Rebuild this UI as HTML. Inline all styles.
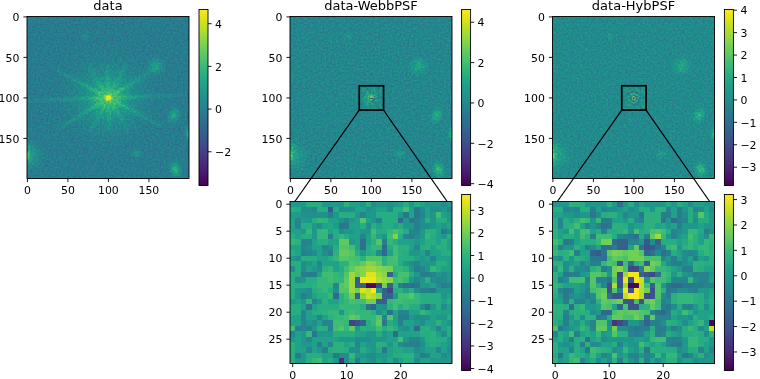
<!DOCTYPE html>
<html><head><meta charset="utf-8"><title>data / data-WebbPSF / data-HybPSF</title>
<style>html,body{margin:0;padding:0;background:#fff}body{width:760px;height:379px;overflow:hidden}svg{display:block}text{font-family:"DejaVu Sans", "Liberation Sans", sans-serif;fill:#000}.gr rect{width:1.03px;height:1.03px}</style></head><body>
<svg width="760" height="379" viewBox="0 0 760 379">
<defs>
<linearGradient id="vg" x1="0" y1="0" x2="0" y2="1"><stop offset="0.0000" stop-color="#fde725"/><stop offset="0.0417" stop-color="#e5e419"/><stop offset="0.0833" stop-color="#c8e020"/><stop offset="0.1250" stop-color="#addc30"/><stop offset="0.1667" stop-color="#90d743"/><stop offset="0.2083" stop-color="#75d054"/><stop offset="0.2500" stop-color="#5ec962"/><stop offset="0.2917" stop-color="#48c16e"/><stop offset="0.3333" stop-color="#35b779"/><stop offset="0.3750" stop-color="#28ae80"/><stop offset="0.4167" stop-color="#20a486"/><stop offset="0.4583" stop-color="#1f9a8a"/><stop offset="0.5000" stop-color="#21918c"/><stop offset="0.5417" stop-color="#24868e"/><stop offset="0.5833" stop-color="#287c8e"/><stop offset="0.6250" stop-color="#2c728e"/><stop offset="0.6667" stop-color="#31688e"/><stop offset="0.7083" stop-color="#365d8d"/><stop offset="0.7500" stop-color="#3b528b"/><stop offset="0.7917" stop-color="#404688"/><stop offset="0.8333" stop-color="#443983"/><stop offset="0.8750" stop-color="#472d7b"/><stop offset="0.9167" stop-color="#481f70"/><stop offset="0.9583" stop-color="#471063"/><stop offset="1.0000" stop-color="#440154"/></linearGradient>
<filter id="f1" x="0" y="0" width="200" height="200" filterUnits="userSpaceOnUse" color-interpolation-filters="sRGB"><feTurbulence type="fractalNoise" baseFrequency="0.42" numOctaves="2" seed="3" result="t"/><feColorMatrix in="t" type="matrix" values="1 0 0 0 0  1 0 0 0 0  1 0 0 0 0  0 0 0 0 1" result="n"/><feComposite in="SourceGraphic" in2="n" operator="arithmetic" k1="0" k2="1" k3="0.260" k4="-0.130" result="s"/><feComponentTransfer in="s"><feFuncR type="table" tableValues="0.267 0.273 0.277 0.280 0.282 0.283 0.283 0.281 0.279 0.275 0.271 0.265 0.259 0.252 0.245 0.237 0.230 0.222 0.214 0.207 0.199 0.192 0.186 0.179 0.173 0.167 0.161 0.155 0.149 0.143 0.138 0.132 0.128 0.123 0.121 0.119 0.121 0.125 0.132 0.143 0.158 0.176 0.197 0.220 0.246 0.274 0.304 0.336 0.369 0.404 0.440 0.478 0.516 0.555 0.596 0.637 0.678 0.720 0.762 0.804 0.846 0.886 0.926 0.965 0.993"/><feFuncG type="table" tableValues="0.005 0.026 0.050 0.073 0.095 0.116 0.136 0.156 0.175 0.195 0.214 0.233 0.252 0.270 0.288 0.305 0.322 0.339 0.356 0.372 0.388 0.403 0.419 0.434 0.449 0.464 0.479 0.493 0.508 0.523 0.537 0.552 0.567 0.582 0.596 0.611 0.626 0.640 0.655 0.669 0.684 0.698 0.712 0.726 0.739 0.752 0.765 0.777 0.789 0.800 0.811 0.821 0.831 0.840 0.849 0.857 0.864 0.870 0.876 0.882 0.887 0.892 0.897 0.902 0.906"/><feFuncB type="table" tableValues="0.329 0.353 0.376 0.397 0.417 0.436 0.453 0.469 0.483 0.496 0.507 0.517 0.525 0.532 0.537 0.542 0.546 0.549 0.551 0.553 0.555 0.556 0.557 0.557 0.558 0.558 0.558 0.558 0.557 0.556 0.555 0.553 0.551 0.547 0.544 0.539 0.533 0.527 0.520 0.511 0.502 0.491 0.479 0.466 0.452 0.437 0.420 0.402 0.383 0.363 0.341 0.318 0.294 0.269 0.243 0.217 0.190 0.163 0.137 0.115 0.100 0.095 0.104 0.124 0.144"/></feComponentTransfer></filter>
<filter id="f2" x="0" y="0" width="200" height="200" filterUnits="userSpaceOnUse" color-interpolation-filters="sRGB"><feTurbulence type="fractalNoise" baseFrequency="0.42" numOctaves="2" seed="11" result="t"/><feColorMatrix in="t" type="matrix" values="1 0 0 0 0  1 0 0 0 0  1 0 0 0 0  0 0 0 0 1" result="n"/><feComposite in="SourceGraphic" in2="n" operator="arithmetic" k1="0" k2="1" k3="0.280" k4="-0.140" result="s"/><feComponentTransfer in="s"><feFuncR type="table" tableValues="0.267 0.273 0.277 0.280 0.282 0.283 0.283 0.281 0.279 0.275 0.271 0.265 0.259 0.252 0.245 0.237 0.230 0.222 0.214 0.207 0.199 0.192 0.186 0.179 0.173 0.167 0.161 0.155 0.149 0.143 0.138 0.132 0.128 0.123 0.121 0.119 0.121 0.125 0.132 0.143 0.158 0.176 0.197 0.220 0.246 0.274 0.304 0.336 0.369 0.404 0.440 0.478 0.516 0.555 0.596 0.637 0.678 0.720 0.762 0.804 0.846 0.886 0.926 0.965 0.993"/><feFuncG type="table" tableValues="0.005 0.026 0.050 0.073 0.095 0.116 0.136 0.156 0.175 0.195 0.214 0.233 0.252 0.270 0.288 0.305 0.322 0.339 0.356 0.372 0.388 0.403 0.419 0.434 0.449 0.464 0.479 0.493 0.508 0.523 0.537 0.552 0.567 0.582 0.596 0.611 0.626 0.640 0.655 0.669 0.684 0.698 0.712 0.726 0.739 0.752 0.765 0.777 0.789 0.800 0.811 0.821 0.831 0.840 0.849 0.857 0.864 0.870 0.876 0.882 0.887 0.892 0.897 0.902 0.906"/><feFuncB type="table" tableValues="0.329 0.353 0.376 0.397 0.417 0.436 0.453 0.469 0.483 0.496 0.507 0.517 0.525 0.532 0.537 0.542 0.546 0.549 0.551 0.553 0.555 0.556 0.557 0.557 0.558 0.558 0.558 0.558 0.557 0.556 0.555 0.553 0.551 0.547 0.544 0.539 0.533 0.527 0.520 0.511 0.502 0.491 0.479 0.466 0.452 0.437 0.420 0.402 0.383 0.363 0.341 0.318 0.294 0.269 0.243 0.217 0.190 0.163 0.137 0.115 0.100 0.095 0.104 0.124 0.144"/></feComponentTransfer></filter>
<filter id="f3" x="0" y="0" width="200" height="200" filterUnits="userSpaceOnUse" color-interpolation-filters="sRGB"><feTurbulence type="fractalNoise" baseFrequency="0.42" numOctaves="2" seed="29" result="t"/><feColorMatrix in="t" type="matrix" values="1 0 0 0 0  1 0 0 0 0  1 0 0 0 0  0 0 0 0 1" result="n"/><feComposite in="SourceGraphic" in2="n" operator="arithmetic" k1="0" k2="1" k3="0.280" k4="-0.140" result="s"/><feComponentTransfer in="s"><feFuncR type="table" tableValues="0.267 0.273 0.277 0.280 0.282 0.283 0.283 0.281 0.279 0.275 0.271 0.265 0.259 0.252 0.245 0.237 0.230 0.222 0.214 0.207 0.199 0.192 0.186 0.179 0.173 0.167 0.161 0.155 0.149 0.143 0.138 0.132 0.128 0.123 0.121 0.119 0.121 0.125 0.132 0.143 0.158 0.176 0.197 0.220 0.246 0.274 0.304 0.336 0.369 0.404 0.440 0.478 0.516 0.555 0.596 0.637 0.678 0.720 0.762 0.804 0.846 0.886 0.926 0.965 0.993"/><feFuncG type="table" tableValues="0.005 0.026 0.050 0.073 0.095 0.116 0.136 0.156 0.175 0.195 0.214 0.233 0.252 0.270 0.288 0.305 0.322 0.339 0.356 0.372 0.388 0.403 0.419 0.434 0.449 0.464 0.479 0.493 0.508 0.523 0.537 0.552 0.567 0.582 0.596 0.611 0.626 0.640 0.655 0.669 0.684 0.698 0.712 0.726 0.739 0.752 0.765 0.777 0.789 0.800 0.811 0.821 0.831 0.840 0.849 0.857 0.864 0.870 0.876 0.882 0.887 0.892 0.897 0.902 0.906"/><feFuncB type="table" tableValues="0.329 0.353 0.376 0.397 0.417 0.436 0.453 0.469 0.483 0.496 0.507 0.517 0.525 0.532 0.537 0.542 0.546 0.549 0.551 0.553 0.555 0.556 0.557 0.557 0.558 0.558 0.558 0.558 0.557 0.556 0.555 0.553 0.551 0.547 0.544 0.539 0.533 0.527 0.520 0.511 0.502 0.491 0.479 0.466 0.452 0.437 0.420 0.402 0.383 0.363 0.341 0.318 0.294 0.269 0.243 0.217 0.190 0.163 0.137 0.115 0.100 0.095 0.104 0.124 0.144"/></feComponentTransfer></filter>
<radialGradient id="b1"><stop offset="0" stop-color="#fff" stop-opacity="0.85"/><stop offset="0.2" stop-color="#fff" stop-opacity="0.74"/><stop offset="0.4" stop-color="#fff" stop-opacity="0.5"/><stop offset="0.6" stop-color="#fff" stop-opacity="0.27"/><stop offset="0.8" stop-color="#fff" stop-opacity="0.09"/><stop offset="1" stop-color="#fff" stop-opacity="0"/></radialGradient>
<radialGradient id="halo"><stop offset="0" stop-color="#fff" stop-opacity="1"/><stop offset="0.026" stop-color="#fff" stop-opacity="1"/><stop offset="0.04" stop-color="#fff" stop-opacity="0.84"/><stop offset="0.055" stop-color="#fff" stop-opacity="0.66"/><stop offset="0.08" stop-color="#fff" stop-opacity="0.52"/><stop offset="0.1" stop-color="#fff" stop-opacity="0.43"/><stop offset="0.14" stop-color="#fff" stop-opacity="0.37"/><stop offset="0.2" stop-color="#fff" stop-opacity="0.3"/><stop offset="0.286" stop-color="#fff" stop-opacity="0.22"/><stop offset="0.429" stop-color="#fff" stop-opacity="0.12"/><stop offset="0.643" stop-color="#fff" stop-opacity="0.045"/><stop offset="0.857" stop-color="#fff" stop-opacity="0.01"/><stop offset="1" stop-color="#fff" stop-opacity="0"/></radialGradient>
<radialGradient id="sp" gradientUnits="userSpaceOnUse" cx="100.5" cy="100.5" r="100"><stop offset="0.05" stop-color="#fff" stop-opacity="0"/><stop offset="0.12" stop-color="#fff" stop-opacity="0.12"/><stop offset="0.2" stop-color="#fff" stop-opacity="0.10"/><stop offset="0.4" stop-color="#fff" stop-opacity="0.07"/><stop offset="0.7" stop-color="#fff" stop-opacity="0.04"/><stop offset="1" stop-color="#fff" stop-opacity="0.025"/></radialGradient>
</defs>
<svg x="27.00" y="16.50" width="162.00" height="162.00" viewBox="0 0 200 200" preserveAspectRatio="none" overflow="hidden">
<g filter="url(#f1)">
<rect x="-5" y="-5" width="210" height="210" fill="#6a6a6a"/>
<line x1="104.5" y1="100.4" x2="192.4" y2="97.3" stroke="url(#sp)" stroke-width="6.5" stroke-linecap="round"/>
<line x1="104.5" y1="100.4" x2="192.4" y2="97.3" stroke="url(#sp)" stroke-width="3.0" stroke-linecap="round"/>
<line x1="103.9" y1="98.4" x2="159.9" y2="63.4" stroke="url(#sp)" stroke-width="6.5" stroke-linecap="round"/>
<line x1="103.9" y1="98.4" x2="159.9" y2="63.4" stroke="url(#sp)" stroke-width="3.0" stroke-linecap="round"/>
<line x1="102.4" y1="97.0" x2="122.1" y2="59.9" stroke="url(#sp)" stroke-width="5.0" stroke-linecap="round"/>
<line x1="100.4" y1="96.5" x2="99.2" y2="62.5" stroke="url(#sp)" stroke-width="5.0" stroke-linecap="round"/>
<line x1="98.4" y1="97.1" x2="76.1" y2="61.5" stroke="url(#sp)" stroke-width="5.0" stroke-linecap="round"/>
<line x1="97.0" y1="98.6" x2="38.7" y2="67.6" stroke="url(#sp)" stroke-width="6.5" stroke-linecap="round"/>
<line x1="97.0" y1="98.6" x2="38.7" y2="67.6" stroke="url(#sp)" stroke-width="3.0" stroke-linecap="round"/>
<line x1="96.5" y1="100.6" x2="0.6" y2="104.0" stroke="url(#sp)" stroke-width="6.5" stroke-linecap="round"/>
<line x1="96.5" y1="100.6" x2="0.6" y2="104.0" stroke="url(#sp)" stroke-width="3.0" stroke-linecap="round"/>
<line x1="97.1" y1="102.6" x2="41.1" y2="137.6" stroke="url(#sp)" stroke-width="6.5" stroke-linecap="round"/>
<line x1="97.1" y1="102.6" x2="41.1" y2="137.6" stroke="url(#sp)" stroke-width="3.0" stroke-linecap="round"/>
<line x1="98.6" y1="104.0" x2="78.9" y2="141.1" stroke="url(#sp)" stroke-width="5.0" stroke-linecap="round"/>
<line x1="100.6" y1="104.5" x2="101.8" y2="138.5" stroke="url(#sp)" stroke-width="5.0" stroke-linecap="round"/>
<line x1="102.6" y1="103.9" x2="124.9" y2="139.5" stroke="url(#sp)" stroke-width="5.0" stroke-linecap="round"/>
<line x1="104.0" y1="102.4" x2="162.3" y2="133.4" stroke="url(#sp)" stroke-width="6.5" stroke-linecap="round"/>
<line x1="104.0" y1="102.4" x2="162.3" y2="133.4" stroke="url(#sp)" stroke-width="3.0" stroke-linecap="round"/>
<circle cx="100.5" cy="100.5" r="70" fill="url(#halo)"/>
<ellipse cx="159.3" cy="61.1" rx="15.2" ry="15.2" fill="url(#b1)" opacity="0.28" transform="rotate(0 159.3 61.1)"/><ellipse cx="71.6" cy="24.3" rx="6.5" ry="6.5" fill="url(#b1)" opacity="0.18" transform="rotate(0 71.6 24.3)"/><ellipse cx="-3.7" cy="171.6" rx="30.4" ry="23.9" fill="url(#b1)" opacity="0.36" transform="rotate(0 -3.7 171.6)"/><ellipse cx="0.6" cy="171.6" rx="5.4" ry="9.8" fill="url(#b1)" opacity="0.45" transform="rotate(0 0.6 171.6)"/><ellipse cx="3.7" cy="161.1" rx="6.5" ry="6.5" fill="url(#b1)" opacity="0.12" transform="rotate(0 3.7 161.1)"/><ellipse cx="181.2" cy="121.9" rx="9.8" ry="14.1" fill="url(#b1)" opacity="0.36" transform="rotate(25 181.2 121.9)"/><ellipse cx="199.8" cy="144.4" rx="6.5" ry="12.0" fill="url(#b1)" opacity="0.42" transform="rotate(0 199.8 144.4)"/><ellipse cx="135.1" cy="169.3" rx="10.9" ry="7.6" fill="url(#b1)" opacity="0.20" transform="rotate(0 135.1 169.3)"/><ellipse cx="183.3" cy="189.1" rx="9.8" ry="14.1" fill="url(#b1)" opacity="0.45" transform="rotate(-20 183.3 189.1)"/><ellipse cx="115.4" cy="53.6" rx="1.6" ry="1.6" fill="url(#b1)" opacity="0.45" transform="rotate(0 115.4 53.6)"/>
<circle cx="51.2" cy="11.0" r="0.87" fill="#fff" opacity="0.13"/>
<circle cx="24.8" cy="120.4" r="0.68" fill="#fff" opacity="0.27"/>
<circle cx="181.8" cy="84.1" r="0.73" fill="#fff" opacity="0.19"/>
<circle cx="38.5" cy="64.2" r="0.79" fill="#fff" opacity="0.14"/>
<circle cx="140.2" cy="63.7" r="0.90" fill="#fff" opacity="0.21"/>
<circle cx="121.2" cy="144.8" r="0.77" fill="#fff" opacity="0.21"/>
<circle cx="47.5" cy="88.6" r="0.75" fill="#fff" opacity="0.25"/>
<circle cx="21.6" cy="147.3" r="0.63" fill="#fff" opacity="0.15"/>
<circle cx="65.3" cy="128.0" r="1.00" fill="#fff" opacity="0.18"/>
<circle cx="116.1" cy="173.0" r="0.92" fill="#fff" opacity="0.17"/>
<circle cx="69.9" cy="143.4" r="0.74" fill="#fff" opacity="0.23"/>
<circle cx="49.9" cy="57.4" r="0.93" fill="#fff" opacity="0.32"/>
<circle cx="30.0" cy="56.9" r="0.81" fill="#fff" opacity="0.33"/>
<circle cx="120.1" cy="137.6" r="0.71" fill="#fff" opacity="0.18"/>
</g>
</svg>
<rect x="27.00" y="16.50" width="162.00" height="162.00" fill="none" stroke="#000" stroke-width="0.9"/>
<line x1="27.41" y1="178.50" x2="27.41" y2="182.10" stroke="#000" stroke-width="0.9"/><text x="27.41" y="194.10" font-size="10.9" text-anchor="middle">0</text><line x1="67.91" y1="178.50" x2="67.91" y2="182.10" stroke="#000" stroke-width="0.9"/><text x="67.91" y="194.10" font-size="10.9" text-anchor="middle">50</text><line x1="108.41" y1="178.50" x2="108.41" y2="182.10" stroke="#000" stroke-width="0.9"/><text x="108.41" y="194.10" font-size="10.9" text-anchor="middle">100</text><line x1="148.91" y1="178.50" x2="148.91" y2="182.10" stroke="#000" stroke-width="0.9"/><text x="148.91" y="194.10" font-size="10.9" text-anchor="middle">150</text><line x1="23.40" y1="16.91" x2="27.00" y2="16.91" stroke="#000" stroke-width="0.9"/><text x="19.40" y="21.11" font-size="10.9" text-anchor="end">0</text><line x1="23.40" y1="57.41" x2="27.00" y2="57.41" stroke="#000" stroke-width="0.9"/><text x="19.40" y="61.61" font-size="10.9" text-anchor="end">50</text><line x1="23.40" y1="97.91" x2="27.00" y2="97.91" stroke="#000" stroke-width="0.9"/><text x="19.40" y="102.11" font-size="10.9" text-anchor="end">100</text><line x1="23.40" y1="138.41" x2="27.00" y2="138.41" stroke="#000" stroke-width="0.9"/><text x="19.40" y="142.60" font-size="10.9" text-anchor="end">150</text>
<text x="108.00" y="9.70" font-size="13" text-anchor="middle">data</text>
<rect x="199.00" y="9.50" width="9" height="176.00" fill="url(#vg)"/><rect x="199.00" y="9.50" width="9.00" height="176.00" fill="none" stroke="#000" stroke-width="0.9"/><line x1="208.00" y1="23.70" x2="211.60" y2="23.70" stroke="#000" stroke-width="0.9"/><text x="215.00" y="27.90" font-size="10.9">4</text><line x1="208.00" y1="66.39" x2="211.60" y2="66.39" stroke="#000" stroke-width="0.9"/><text x="215.00" y="70.59" font-size="10.9">2</text><line x1="208.00" y1="109.08" x2="211.60" y2="109.08" stroke="#000" stroke-width="0.9"/><text x="215.00" y="113.28" font-size="10.9">0</text><line x1="208.00" y1="151.77" x2="211.60" y2="151.77" stroke="#000" stroke-width="0.9"/><text x="215.00" y="155.97" font-size="10.9">−2</text>
<svg x="290.00" y="16.50" width="162.00" height="162.00" viewBox="0 0 200 200" preserveAspectRatio="none" overflow="hidden">
<g filter="url(#f2)">
<rect x="-5" y="-5" width="210" height="210" fill="#757575"/>
<ellipse cx="159.3" cy="61.1" rx="15.2" ry="15.2" fill="url(#b1)" opacity="0.28" transform="rotate(0 159.3 61.1)"/><ellipse cx="71.6" cy="24.3" rx="6.5" ry="6.5" fill="url(#b1)" opacity="0.18" transform="rotate(0 71.6 24.3)"/><ellipse cx="-3.7" cy="171.6" rx="30.4" ry="23.9" fill="url(#b1)" opacity="0.36" transform="rotate(0 -3.7 171.6)"/><ellipse cx="0.6" cy="171.6" rx="5.4" ry="9.8" fill="url(#b1)" opacity="0.45" transform="rotate(0 0.6 171.6)"/><ellipse cx="3.7" cy="161.1" rx="6.5" ry="6.5" fill="url(#b1)" opacity="0.12" transform="rotate(0 3.7 161.1)"/><ellipse cx="181.2" cy="121.9" rx="9.8" ry="14.1" fill="url(#b1)" opacity="0.36" transform="rotate(25 181.2 121.9)"/><ellipse cx="199.8" cy="144.4" rx="6.5" ry="12.0" fill="url(#b1)" opacity="0.42" transform="rotate(0 199.8 144.4)"/><ellipse cx="135.1" cy="169.3" rx="10.9" ry="7.6" fill="url(#b1)" opacity="0.20" transform="rotate(0 135.1 169.3)"/><ellipse cx="183.3" cy="189.1" rx="9.8" ry="14.1" fill="url(#b1)" opacity="0.45" transform="rotate(-20 183.3 189.1)"/><ellipse cx="115.4" cy="53.6" rx="1.6" ry="1.6" fill="url(#b1)" opacity="0.45" transform="rotate(0 115.4 53.6)"/>
<circle cx="75.4" cy="188.3" r="0.89" fill="#fff" opacity="0.26"/>
<circle cx="32.6" cy="32.6" r="0.62" fill="#fff" opacity="0.32"/>
<circle cx="119.8" cy="140.8" r="0.61" fill="#fff" opacity="0.34"/>
<circle cx="165.2" cy="43.6" r="0.67" fill="#fff" opacity="0.16"/>
<circle cx="61.6" cy="104.9" r="0.77" fill="#fff" opacity="0.19"/>
<circle cx="121.9" cy="29.3" r="0.72" fill="#fff" opacity="0.20"/>
<circle cx="91.4" cy="155.9" r="0.68" fill="#fff" opacity="0.24"/>
<circle cx="118.1" cy="11.1" r="0.84" fill="#fff" opacity="0.16"/>
<circle cx="14.8" cy="188.0" r="0.99" fill="#fff" opacity="0.31"/>
<circle cx="61.7" cy="21.1" r="0.87" fill="#fff" opacity="0.22"/>
<circle cx="25.9" cy="99.1" r="0.61" fill="#fff" opacity="0.33"/>
<circle cx="52.7" cy="131.9" r="0.72" fill="#fff" opacity="0.24"/>
<circle cx="109.2" cy="38.2" r="0.99" fill="#fff" opacity="0.30"/>
<circle cx="186.1" cy="177.4" r="0.84" fill="#fff" opacity="0.33"/>
<circle cx="19.3" cy="40.4" r="0.62" fill="#fff" opacity="0.19"/>
<circle cx="78.2" cy="55.2" r="0.93" fill="#fff" opacity="0.20"/>
<circle cx="57.1" cy="108.4" r="0.66" fill="#fff" opacity="0.30"/>
<circle cx="16.6" cy="195.4" r="0.91" fill="#fff" opacity="0.17"/>
<circle cx="3.1" cy="161.8" r="0.88" fill="#fff" opacity="0.29"/>
<circle cx="153.2" cy="16.5" r="0.74" fill="#fff" opacity="0.15"/>
<circle cx="171.2" cy="124.2" r="0.73" fill="#fff" opacity="0.13"/>
<circle cx="63.0" cy="65.7" r="0.89" fill="#fff" opacity="0.27"/>
<circle cx="175.9" cy="94.6" r="0.65" fill="#fff" opacity="0.28"/>
<circle cx="151.1" cy="112.0" r="0.91" fill="#fff" opacity="0.23"/>
<circle cx="104.5" cy="85.8" r="0.61" fill="#fff" opacity="0.14"/>
<circle cx="8.2" cy="126.7" r="0.73" fill="#fff" opacity="0.24"/>
<circle cx="179.9" cy="50.9" r="0.76" fill="#fff" opacity="0.29"/>
<circle cx="46.8" cy="17.1" r="0.72" fill="#fff" opacity="0.16"/>
</g>
<g class="gr" transform="translate(85.50 85.50) scale(1.0000)"><g transform="translate(0 0)"><rect x="0" fill="#21918c" style="width:3.03px"/><rect x="3" fill="#1fa088" style="width:3.03px"/><rect x="6" fill="#21918c" style="width:4.03px"/><rect x="10" fill="#1fa088"/><rect x="11" fill="#21918c" style="width:3.03px"/><rect x="14" fill="#1fa088"/><rect x="15" fill="#26828e"/><rect x="16" fill="#21918c" style="width:2.03px"/><rect x="18" fill="#26828e"/><rect x="19" fill="#21918c" style="width:2.03px"/><rect x="21" fill="#1fa088"/><rect x="22" fill="#21918c"/><rect x="23" fill="#1fa088"/><rect x="24" fill="#21918c" style="width:4.03px"/><rect x="28" fill="#26828e"/><rect x="29" fill="#21918c"/></g>
<g transform="translate(0 1)"><rect x="0" fill="#1fa088" style="width:2.03px"/><rect x="2" fill="#26828e" style="width:2.03px"/><rect x="4" fill="#2c728e"/><rect x="5" fill="#1fa088" style="width:2.03px"/><rect x="7" fill="#3b528b"/><rect x="8" fill="#1fa088"/><rect x="9" fill="#26828e" style="width:3.03px"/><rect x="12" fill="#21918c" style="width:2.03px"/><rect x="14" fill="#26828e"/><rect x="15" fill="#21918c" style="width:3.03px"/><rect x="18" fill="#26828e"/><rect x="19" fill="#1fa088" style="width:2.03px"/><rect x="21" fill="#28ae80"/><rect x="22" fill="#21918c"/><rect x="23" fill="#2c728e"/><rect x="24" fill="#26828e"/><rect x="25" fill="#21918c"/><rect x="26" fill="#26828e" style="width:2.03px"/><rect x="28" fill="#21918c"/><rect x="29" fill="#2c728e"/></g>
<g transform="translate(0 2)"><rect x="0" fill="#21918c" style="width:2.03px"/><rect x="2" fill="#26828e" style="width:5.03px"/><rect x="7" fill="#2c728e"/><rect x="8" fill="#21918c"/><rect x="9" fill="#1fa088" style="width:3.03px"/><rect x="12" fill="#21918c"/><rect x="13" fill="#2c728e"/><rect x="14" fill="#21918c" style="width:2.03px"/><rect x="16" fill="#1fa088" style="width:4.03px"/><rect x="20" fill="#21918c"/><rect x="21" fill="#2c728e"/><rect x="22" fill="#21918c"/><rect x="23" fill="#2c728e" style="width:2.03px"/><rect x="25" fill="#21918c" style="width:2.03px"/><rect x="27" fill="#28ae80"/><rect x="28" fill="#21918c" style="width:2.03px"/></g>
<g transform="translate(0 3)"><rect x="0" fill="#21918c"/><rect x="1" fill="#2c728e"/><rect x="2" fill="#21918c" style="width:2.03px"/><rect x="4" fill="#1fa088"/><rect x="5" fill="#28ae80"/><rect x="6" fill="#1fa088"/><rect x="7" fill="#21918c" style="width:2.03px"/><rect x="9" fill="#26828e"/><rect x="10" fill="#2c728e"/><rect x="11" fill="#21918c" style="width:2.03px"/><rect x="13" fill="#28ae80"/><rect x="14" fill="#21918c" style="width:2.03px"/><rect x="16" fill="#2c728e"/><rect x="17" fill="#1fa088" style="width:3.03px"/><rect x="20" fill="#33638d"/><rect x="21" fill="#21918c"/><rect x="22" fill="#2c728e" style="width:2.03px"/><rect x="24" fill="#26828e"/><rect x="25" fill="#1fa088"/><rect x="26" fill="#21918c"/><rect x="27" fill="#1fa088" style="width:2.03px"/><rect x="29" fill="#21918c"/></g>
<g transform="translate(0 4)"><rect x="0" fill="#21918c"/><rect x="1" fill="#2c728e"/><rect x="2" fill="#1fa088" style="width:2.03px"/><rect x="4" fill="#21918c"/><rect x="5" fill="#26828e"/><rect x="6" fill="#21918c"/><rect x="7" fill="#1fa088"/><rect x="8" fill="#21918c"/><rect x="9" fill="#2c728e" style="width:2.03px"/><rect x="11" fill="#21918c" style="width:2.03px"/><rect x="13" fill="#1fa088"/><rect x="14" fill="#26828e"/><rect x="15" fill="#1fa088"/><rect x="16" fill="#21918c"/><rect x="17" fill="#1fa088" style="width:2.03px"/><rect x="19" fill="#21918c"/><rect x="20" fill="#1fa088"/><rect x="21" fill="#21918c" style="width:2.03px"/><rect x="23" fill="#2c728e"/><rect x="24" fill="#26828e" style="width:2.03px"/><rect x="26" fill="#21918c" style="width:4.03px"/></g>
<g transform="translate(0 5)"><rect x="0" fill="#21918c" style="width:3.03px"/><rect x="3" fill="#28ae80"/><rect x="4" fill="#21918c"/><rect x="5" fill="#28ae80" style="width:2.03px"/><rect x="7" fill="#21918c"/><rect x="8" fill="#1fa088"/><rect x="9" fill="#26828e"/><rect x="10" fill="#21918c" style="width:5.03px"/><rect x="15" fill="#28ae80"/><rect x="16" fill="#1fa088" style="width:2.03px"/><rect x="18" fill="#28ae80" style="width:3.03px"/><rect x="21" fill="#1fa088"/><rect x="22" fill="#2c728e" style="width:2.03px"/><rect x="24" fill="#21918c"/><rect x="25" fill="#1fa088" style="width:2.03px"/><rect x="27" fill="#21918c"/><rect x="28" fill="#2c728e"/><rect x="29" fill="#26828e"/></g>
<g transform="translate(0 6)"><rect x="0" fill="#1fa088"/><rect x="1" fill="#21918c"/><rect x="2" fill="#1fa088" style="width:2.03px"/><rect x="4" fill="#21918c"/><rect x="5" fill="#28ae80" style="width:2.03px"/><rect x="7" fill="#2c728e"/><rect x="8" fill="#1fa088"/><rect x="9" fill="#28ae80"/><rect x="10" fill="#1fa088"/><rect x="11" fill="#21918c" style="width:2.03px"/><rect x="13" fill="#2c728e"/><rect x="14" fill="#21918c"/><rect x="15" fill="#28ae80"/><rect x="16" fill="#21918c" style="width:2.03px"/><rect x="18" fill="#28ae80"/><rect x="19" fill="#3fbc73"/><rect x="20" fill="#1fa088"/><rect x="21" fill="#2c728e" style="width:2.03px"/><rect x="23" fill="#26828e"/><rect x="24" fill="#21918c"/><rect x="25" fill="#28ae80"/><rect x="26" fill="#1fa088"/><rect x="27" fill="#21918c" style="width:2.03px"/><rect x="29" fill="#1fa088"/></g>
<g transform="translate(0 7)"><rect x="0" fill="#28ae80"/><rect x="1" fill="#1fa088"/><rect x="2" fill="#2c728e" style="width:2.03px"/><rect x="4" fill="#21918c"/><rect x="5" fill="#1fa088" style="width:2.03px"/><rect x="7" fill="#21918c" style="width:2.03px"/><rect x="9" fill="#3fbc73" style="width:2.03px"/><rect x="11" fill="#21918c" style="width:2.03px"/><rect x="13" fill="#33638d"/><rect x="14" fill="#21918c"/><rect x="15" fill="#1fa088"/><rect x="16" fill="#28ae80"/><rect x="17" fill="#2c728e"/><rect x="18" fill="#28ae80"/><rect x="19" fill="#1fa088"/><rect x="20" fill="#21918c" style="width:5.03px"/><rect x="25" fill="#1fa088" style="width:2.03px"/><rect x="27" fill="#21918c"/><rect x="28" fill="#1fa088"/><rect x="29" fill="#21918c"/></g>
<g transform="translate(0 8)"><rect x="0" fill="#21918c" style="width:2.03px"/><rect x="2" fill="#2c728e"/><rect x="3" fill="#26828e"/><rect x="4" fill="#21918c" style="width:2.03px"/><rect x="6" fill="#2c728e"/><rect x="7" fill="#26828e"/><rect x="8" fill="#1fa088"/><rect x="9" fill="#28ae80" style="width:3.03px"/><rect x="12" fill="#21918c"/><rect x="13" fill="#33638d"/><rect x="14" fill="#1fa088"/><rect x="15" fill="#28ae80" style="width:2.03px"/><rect x="17" fill="#33638d"/><rect x="18" fill="#1fa088"/><rect x="19" fill="#28ae80"/><rect x="20" fill="#1fa088" style="width:2.03px"/><rect x="22" fill="#21918c"/><rect x="23" fill="#2c728e"/><rect x="24" fill="#1fa088" style="width:2.03px"/><rect x="26" fill="#21918c"/><rect x="27" fill="#1fa088" style="width:2.03px"/><rect x="29" fill="#21918c"/></g>
<g transform="translate(0 9)"><rect x="0" fill="#1fa088"/><rect x="1" fill="#21918c"/><rect x="2" fill="#2c728e" style="width:2.03px"/><rect x="4" fill="#26828e"/><rect x="5" fill="#21918c"/><rect x="6" fill="#26828e"/><rect x="7" fill="#2c728e"/><rect x="8" fill="#1fa088"/><rect x="9" fill="#3fbc73" style="width:2.03px"/><rect x="11" fill="#28ae80"/><rect x="12" fill="#1fa088"/><rect x="13" fill="#21918c"/><rect x="14" fill="#1fa088" style="width:2.03px"/><rect x="16" fill="#26828e"/><rect x="17" fill="#33638d"/><rect x="18" fill="#21918c"/><rect x="19" fill="#28ae80"/><rect x="20" fill="#1fa088" style="width:2.03px"/><rect x="22" fill="#21918c" style="width:3.03px"/><rect x="25" fill="#2c728e"/><rect x="26" fill="#21918c" style="width:2.03px"/><rect x="28" fill="#1fa088" style="width:2.03px"/></g>
<g transform="translate(0 10)"><rect x="0" fill="#21918c"/><rect x="1" fill="#26828e"/><rect x="2" fill="#1fa088" style="width:3.03px"/><rect x="5" fill="#21918c" style="width:2.03px"/><rect x="7" fill="#1fa088"/><rect x="8" fill="#28ae80" style="width:5.03px"/><rect x="13" fill="#1fa088"/><rect x="14" fill="#28ae80" style="width:3.03px"/><rect x="17" fill="#1fa088"/><rect x="18" fill="#28ae80" style="width:2.03px"/><rect x="20" fill="#1fa088" style="width:3.03px"/><rect x="23" fill="#21918c" style="width:3.03px"/><rect x="26" fill="#2c728e"/><rect x="27" fill="#21918c" style="width:3.03px"/></g>
<g transform="translate(0 11)"><rect x="0" fill="#1fa088" style="width:2.03px"/><rect x="2" fill="#26828e"/><rect x="3" fill="#21918c" style="width:2.03px"/><rect x="5" fill="#2c728e"/><rect x="6" fill="#21918c" style="width:3.03px"/><rect x="9" fill="#1fa088" style="width:2.03px"/><rect x="11" fill="#28ae80" style="width:2.03px"/><rect x="13" fill="#3fbc73"/><rect x="14" fill="#5ec962"/><rect x="15" fill="#3fbc73" style="width:2.03px"/><rect x="17" fill="#1fa088"/><rect x="18" fill="#28ae80" style="width:2.03px"/><rect x="20" fill="#1fa088"/><rect x="21" fill="#21918c"/><rect x="22" fill="#26828e"/><rect x="23" fill="#2c728e"/><rect x="24" fill="#21918c" style="width:3.03px"/><rect x="27" fill="#1fa088" style="width:2.03px"/><rect x="29" fill="#21918c"/></g>
<g transform="translate(0 12)"><rect x="0" fill="#26828e"/><rect x="1" fill="#1fa088"/><rect x="2" fill="#26828e"/><rect x="3" fill="#21918c" style="width:2.03px"/><rect x="5" fill="#26828e"/><rect x="6" fill="#1fa088"/><rect x="7" fill="#28ae80"/><rect x="8" fill="#21918c"/><rect x="9" fill="#1fa088"/><rect x="10" fill="#28ae80"/><rect x="11" fill="#3fbc73" style="width:2.03px"/><rect x="13" fill="#5ec962" style="width:4.03px"/><rect x="17" fill="#3fbc73" style="width:2.03px"/><rect x="19" fill="#28ae80" style="width:2.03px"/><rect x="21" fill="#1fa088"/><rect x="22" fill="#21918c"/><rect x="23" fill="#2c728e" style="width:2.03px"/><rect x="25" fill="#21918c"/><rect x="26" fill="#28ae80"/><rect x="27" fill="#1fa088"/><rect x="28" fill="#21918c" style="width:2.03px"/></g>
<g transform="translate(0 13)"><rect x="0" fill="#1fa088" style="width:2.03px"/><rect x="2" fill="#2c728e" style="width:3.03px"/><rect x="5" fill="#21918c"/><rect x="6" fill="#28ae80" style="width:3.03px"/><rect x="9" fill="#1fa088"/><rect x="10" fill="#28ae80"/><rect x="11" fill="#5ec962"/><rect x="12" fill="#3fbc73"/><rect x="13" fill="#5ec962"/><rect x="14" fill="#addc30" style="width:2.03px"/><rect x="16" fill="#5ec962" style="width:2.03px"/><rect x="18" fill="#3b528b"/><rect x="19" fill="#1fa088"/><rect x="20" fill="#28ae80" style="width:2.03px"/><rect x="22" fill="#1fa088"/><rect x="23" fill="#21918c"/><rect x="24" fill="#2c728e" style="width:3.03px"/><rect x="27" fill="#21918c"/><rect x="28" fill="#26828e"/><rect x="29" fill="#21918c"/></g>
<g transform="translate(0 14)"><rect x="0" fill="#1fa088"/><rect x="1" fill="#26828e"/><rect x="2" fill="#21918c"/><rect x="3" fill="#1fa088" style="width:2.03px"/><rect x="5" fill="#28ae80" style="width:5.03px"/><rect x="10" fill="#3fbc73"/><rect x="11" fill="#5ec962"/><rect x="12" fill="#3b528b"/><rect x="13" fill="#addc30" style="width:3.03px"/><rect x="16" fill="#84d44b"/><rect x="17" fill="#5ec962" style="width:2.03px"/><rect x="19" fill="#28ae80" style="width:3.03px"/><rect x="22" fill="#21918c"/><rect x="23" fill="#2c728e"/><rect x="24" fill="#21918c"/><rect x="25" fill="#1fa088"/><rect x="26" fill="#26828e"/><rect x="27" fill="#2c728e"/><rect x="28" fill="#26828e"/><rect x="29" fill="#21918c"/></g>
<g transform="translate(0 15)"><rect x="0" fill="#1fa088" style="width:5.03px"/><rect x="5" fill="#28ae80" style="width:3.03px"/><rect x="8" fill="#2c728e"/><rect x="9" fill="#28ae80"/><rect x="10" fill="#3fbc73"/><rect x="11" fill="#5ec962"/><rect x="12" fill="#3b528b" style="width:2.03px"/><rect x="14" fill="#440154" style="width:2.03px"/><rect x="16" fill="#424086"/><rect x="17" fill="#3fbc73"/><rect x="18" fill="#3b528b"/><rect x="19" fill="#28ae80"/><rect x="20" fill="#2c728e"/><rect x="21" fill="#33638d" style="width:2.03px"/><rect x="23" fill="#2c728e"/><rect x="24" fill="#21918c" style="width:3.03px"/><rect x="27" fill="#26828e"/><rect x="28" fill="#2c728e" style="width:2.03px"/></g>
<g transform="translate(0 16)"><rect x="0" fill="#1fa088"/><rect x="1" fill="#21918c" style="width:2.03px"/><rect x="3" fill="#26828e"/><rect x="4" fill="#1fa088" style="width:2.03px"/><rect x="6" fill="#28ae80"/><rect x="7" fill="#1fa088"/><rect x="8" fill="#26828e"/><rect x="9" fill="#28ae80" style="width:2.03px"/><rect x="11" fill="#5ec962"/><rect x="12" fill="#3fbc73"/><rect x="13" fill="#addc30"/><rect x="14" fill="#84d44b"/><rect x="15" fill="#addc30"/><rect x="16" fill="#21918c"/><rect x="17" fill="#3b528b"/><rect x="18" fill="#424086"/><rect x="19" fill="#1fa088" style="width:2.03px"/><rect x="21" fill="#21918c"/><rect x="22" fill="#1fa088"/><rect x="23" fill="#26828e"/><rect x="24" fill="#2c728e" style="width:3.03px"/><rect x="27" fill="#21918c" style="width:3.03px"/></g>
<g transform="translate(0 17)"><rect x="0" fill="#1fa088"/><rect x="1" fill="#21918c"/><rect x="2" fill="#2c728e"/><rect x="3" fill="#26828e"/><rect x="4" fill="#21918c"/><rect x="5" fill="#1fa088" style="width:2.03px"/><rect x="7" fill="#28ae80"/><rect x="8" fill="#33638d"/><rect x="9" fill="#1fa088"/><rect x="10" fill="#28ae80"/><rect x="11" fill="#3fbc73"/><rect x="12" fill="#3b528b"/><rect x="13" fill="#5ec962"/><rect x="14" fill="#84d44b" style="width:2.03px"/><rect x="16" fill="#5ec962"/><rect x="17" fill="#3b528b" style="width:2.03px"/><rect x="19" fill="#21918c"/><rect x="20" fill="#28ae80" style="width:4.03px"/><rect x="24" fill="#1fa088" style="width:4.03px"/><rect x="28" fill="#21918c" style="width:2.03px"/></g>
<g transform="translate(0 18)"><rect x="0" fill="#21918c" style="width:3.03px"/><rect x="3" fill="#28ae80"/><rect x="4" fill="#2c728e"/><rect x="5" fill="#21918c"/><rect x="6" fill="#1fa088"/><rect x="7" fill="#21918c" style="width:2.03px"/><rect x="9" fill="#1fa088"/><rect x="10" fill="#28ae80" style="width:4.03px"/><rect x="14" fill="#3fbc73" style="width:2.03px"/><rect x="16" fill="#3b528b" style="width:2.03px"/><rect x="18" fill="#28ae80" style="width:6.03px"/><rect x="24" fill="#1fa088" style="width:4.03px"/><rect x="28" fill="#21918c"/><rect x="29" fill="#1fa088"/></g>
<g transform="translate(0 19)"><rect x="0" fill="#1fa088" style="width:2.03px"/><rect x="2" fill="#21918c"/><rect x="3" fill="#33638d"/><rect x="4" fill="#21918c"/><rect x="5" fill="#1fa088" style="width:4.03px"/><rect x="9" fill="#28ae80" style="width:4.03px"/><rect x="13" fill="#1fa088"/><rect x="14" fill="#33638d"/><rect x="15" fill="#3b528b"/><rect x="16" fill="#21918c"/><rect x="17" fill="#26828e"/><rect x="18" fill="#1fa088"/><rect x="19" fill="#28ae80"/><rect x="20" fill="#1fa088"/><rect x="21" fill="#28ae80"/><rect x="22" fill="#1fa088" style="width:2.03px"/><rect x="24" fill="#26828e"/><rect x="25" fill="#33638d"/><rect x="26" fill="#21918c"/><rect x="27" fill="#1fa088"/><rect x="28" fill="#26828e"/><rect x="29" fill="#21918c"/></g>
<g transform="translate(0 20)"><rect x="0" fill="#1fa088" style="width:2.03px"/><rect x="2" fill="#2c728e"/><rect x="3" fill="#21918c"/><rect x="4" fill="#1fa088" style="width:3.03px"/><rect x="7" fill="#28ae80" style="width:2.03px"/><rect x="9" fill="#21918c"/><rect x="10" fill="#28ae80" style="width:5.03px"/><rect x="15" fill="#1fa088"/><rect x="16" fill="#26828e"/><rect x="17" fill="#21918c"/><rect x="18" fill="#33638d"/><rect x="19" fill="#21918c"/><rect x="20" fill="#2c728e" style="width:2.03px"/><rect x="22" fill="#21918c" style="width:2.03px"/><rect x="24" fill="#28ae80"/><rect x="25" fill="#1fa088"/><rect x="26" fill="#21918c" style="width:4.03px"/></g>
<g transform="translate(0 21)"><rect x="0" fill="#21918c" style="width:2.03px"/><rect x="2" fill="#2c728e"/><rect x="3" fill="#21918c" style="width:2.03px"/><rect x="5" fill="#2c728e"/><rect x="6" fill="#21918c"/><rect x="7" fill="#1fa088"/><rect x="8" fill="#28ae80" style="width:3.03px"/><rect x="11" fill="#3fbc73"/><rect x="12" fill="#28ae80" style="width:5.03px"/><rect x="17" fill="#2c728e"/><rect x="18" fill="#28ae80"/><rect x="19" fill="#21918c"/><rect x="20" fill="#2c728e" style="width:2.03px"/><rect x="22" fill="#21918c"/><rect x="23" fill="#26828e" style="width:3.03px"/><rect x="26" fill="#21918c" style="width:3.03px"/><rect x="29" fill="#1fa088"/></g>
<g transform="translate(0 22)"><rect x="0" fill="#21918c" style="width:2.03px"/><rect x="2" fill="#2c728e"/><rect x="3" fill="#21918c"/><rect x="4" fill="#26828e"/><rect x="5" fill="#21918c"/><rect x="6" fill="#2c728e" style="width:2.03px"/><rect x="8" fill="#28ae80" style="width:3.03px"/><rect x="11" fill="#424086"/><rect x="12" fill="#3b528b" style="width:2.03px"/><rect x="14" fill="#1fa088"/><rect x="15" fill="#28ae80"/><rect x="16" fill="#3fbc73"/><rect x="17" fill="#2c728e"/><rect x="18" fill="#1fa088"/><rect x="19" fill="#21918c"/><rect x="20" fill="#2c728e"/><rect x="21" fill="#21918c" style="width:3.03px"/><rect x="24" fill="#26828e"/><rect x="25" fill="#21918c" style="width:2.03px"/><rect x="27" fill="#1fa088"/><rect x="28" fill="#21918c" style="width:2.03px"/></g>
<g transform="translate(0 23)"><rect x="0" fill="#28ae80"/><rect x="1" fill="#2c728e" style="width:3.03px"/><rect x="4" fill="#21918c"/><rect x="5" fill="#1fa088" style="width:2.03px"/><rect x="7" fill="#2c728e"/><rect x="8" fill="#28ae80" style="width:3.03px"/><rect x="11" fill="#3fbc73"/><rect x="12" fill="#21918c"/><rect x="13" fill="#1fa088" style="width:3.03px"/><rect x="16" fill="#28ae80"/><rect x="17" fill="#1fa088"/><rect x="18" fill="#28ae80"/><rect x="19" fill="#1fa088"/><rect x="20" fill="#21918c"/><rect x="21" fill="#26828e"/><rect x="22" fill="#21918c"/><rect x="23" fill="#33638d"/><rect x="24" fill="#1fa088" style="width:2.03px"/><rect x="26" fill="#21918c"/><rect x="27" fill="#2c728e"/><rect x="28" fill="#21918c"/><rect x="29" fill="#1fa088"/></g>
<g transform="translate(0 24)"><rect x="0" fill="#2c728e"/><rect x="1" fill="#21918c" style="width:2.03px"/><rect x="3" fill="#28ae80"/><rect x="4" fill="#2c728e"/><rect x="5" fill="#21918c" style="width:3.03px"/><rect x="8" fill="#1fa088" style="width:4.03px"/><rect x="12" fill="#21918c" style="width:4.03px"/><rect x="16" fill="#1fa088"/><rect x="17" fill="#21918c" style="width:2.03px"/><rect x="19" fill="#33638d"/><rect x="20" fill="#21918c" style="width:4.03px"/><rect x="24" fill="#1fa088" style="width:3.03px"/><rect x="27" fill="#21918c"/><rect x="28" fill="#26828e"/><rect x="29" fill="#1fa088"/></g>
<g transform="translate(0 25)"><rect x="0" fill="#21918c" style="width:3.03px"/><rect x="3" fill="#2c728e"/><rect x="4" fill="#21918c" style="width:8.03px"/><rect x="12" fill="#26828e" style="width:3.03px"/><rect x="15" fill="#21918c" style="width:5.03px"/><rect x="20" fill="#28ae80"/><rect x="21" fill="#21918c"/><rect x="22" fill="#2c728e" style="width:2.03px"/><rect x="24" fill="#21918c"/><rect x="25" fill="#1fa088" style="width:4.03px"/><rect x="29" fill="#21918c"/></g>
<g transform="translate(0 26)"><rect x="0" fill="#1fa088"/><rect x="1" fill="#21918c" style="width:4.03px"/><rect x="5" fill="#2c728e"/><rect x="6" fill="#21918c"/><rect x="7" fill="#2c728e"/><rect x="8" fill="#1fa088" style="width:2.03px"/><rect x="10" fill="#21918c"/><rect x="11" fill="#1fa088"/><rect x="12" fill="#2c728e"/><rect x="13" fill="#21918c" style="width:3.03px"/><rect x="16" fill="#1fa088" style="width:2.03px"/><rect x="18" fill="#21918c"/><rect x="19" fill="#1fa088"/><rect x="20" fill="#26828e"/><rect x="21" fill="#2c728e" style="width:3.03px"/><rect x="24" fill="#26828e"/><rect x="25" fill="#1fa088" style="width:3.03px"/><rect x="28" fill="#21918c" style="width:2.03px"/></g>
<g transform="translate(0 27)"><rect x="0" fill="#1fa088"/><rect x="1" fill="#21918c" style="width:2.03px"/><rect x="3" fill="#2c728e"/><rect x="4" fill="#21918c" style="width:2.03px"/><rect x="6" fill="#2c728e"/><rect x="7" fill="#1fa088" style="width:4.03px"/><rect x="11" fill="#26828e" style="width:2.03px"/><rect x="13" fill="#1fa088"/><rect x="14" fill="#21918c" style="width:2.03px"/><rect x="16" fill="#1fa088"/><rect x="17" fill="#2c728e"/><rect x="18" fill="#21918c"/><rect x="19" fill="#1fa088" style="width:2.03px"/><rect x="21" fill="#21918c" style="width:2.03px"/><rect x="23" fill="#26828e"/><rect x="24" fill="#21918c" style="width:3.03px"/><rect x="27" fill="#2c728e"/><rect x="28" fill="#21918c"/><rect x="29" fill="#26828e"/></g>
<g transform="translate(0 28)"><rect x="0" fill="#1fa088"/><rect x="1" fill="#2c728e"/><rect x="2" fill="#21918c"/><rect x="3" fill="#1fa088" style="width:3.03px"/><rect x="6" fill="#21918c" style="width:2.03px"/><rect x="8" fill="#2c728e"/><rect x="9" fill="#26828e" style="width:2.03px"/><rect x="11" fill="#28ae80"/><rect x="12" fill="#21918c" style="width:2.03px"/><rect x="14" fill="#26828e" style="width:2.03px"/><rect x="16" fill="#21918c" style="width:3.03px"/><rect x="19" fill="#1fa088" style="width:4.03px"/><rect x="23" fill="#21918c"/><rect x="24" fill="#2c728e" style="width:2.03px"/><rect x="26" fill="#21918c" style="width:2.03px"/><rect x="28" fill="#26828e"/><rect x="29" fill="#21918c"/></g>
<g transform="translate(0 29)"><rect x="0" fill="#1fa088"/><rect x="1" fill="#21918c" style="width:2.03px"/><rect x="3" fill="#1fa088"/><rect x="4" fill="#28ae80" style="width:2.03px"/><rect x="6" fill="#21918c"/><rect x="7" fill="#1fa088"/><rect x="8" fill="#21918c"/><rect x="9" fill="#472d7b"/><rect x="10" fill="#26828e"/><rect x="11" fill="#1fa088"/><rect x="12" fill="#2c728e"/><rect x="13" fill="#21918c" style="width:2.03px"/><rect x="15" fill="#26828e"/><rect x="16" fill="#21918c" style="width:2.03px"/><rect x="18" fill="#1fa088"/><rect x="19" fill="#26828e"/><rect x="20" fill="#21918c"/><rect x="21" fill="#1fa088" style="width:2.03px"/><rect x="23" fill="#26828e"/><rect x="24" fill="#21918c" style="width:6.03px"/></g>
</g>
</svg>
<rect x="290.00" y="16.50" width="162.00" height="162.00" fill="none" stroke="#000" stroke-width="0.9"/>
<line x1="290.40" y1="178.50" x2="290.40" y2="182.10" stroke="#000" stroke-width="0.9"/><text x="290.40" y="194.10" font-size="10.9" text-anchor="middle">0</text><line x1="330.90" y1="178.50" x2="330.90" y2="182.10" stroke="#000" stroke-width="0.9"/><text x="330.90" y="194.10" font-size="10.9" text-anchor="middle">50</text><line x1="371.40" y1="178.50" x2="371.40" y2="182.10" stroke="#000" stroke-width="0.9"/><text x="371.40" y="194.10" font-size="10.9" text-anchor="middle">100</text><line x1="411.90" y1="178.50" x2="411.90" y2="182.10" stroke="#000" stroke-width="0.9"/><text x="411.90" y="194.10" font-size="10.9" text-anchor="middle">150</text><line x1="286.40" y1="16.91" x2="290.00" y2="16.91" stroke="#000" stroke-width="0.9"/><text x="282.40" y="21.11" font-size="10.9" text-anchor="end">0</text><line x1="286.40" y1="57.41" x2="290.00" y2="57.41" stroke="#000" stroke-width="0.9"/><text x="282.40" y="61.61" font-size="10.9" text-anchor="end">50</text><line x1="286.40" y1="97.91" x2="290.00" y2="97.91" stroke="#000" stroke-width="0.9"/><text x="282.40" y="102.11" font-size="10.9" text-anchor="end">100</text><line x1="286.40" y1="138.41" x2="290.00" y2="138.41" stroke="#000" stroke-width="0.9"/><text x="282.40" y="142.60" font-size="10.9" text-anchor="end">150</text>
<text x="371.00" y="9.70" font-size="13" text-anchor="middle">data-WebbPSF</text>
<rect x="461.60" y="9.50" width="9" height="176.00" fill="url(#vg)"/><rect x="461.60" y="9.50" width="9.00" height="176.00" fill="none" stroke="#000" stroke-width="0.9"/><line x1="470.60" y1="22.22" x2="474.20" y2="22.22" stroke="#000" stroke-width="0.9"/><text x="477.60" y="26.42" font-size="10.9">4</text><line x1="470.60" y1="62.58" x2="474.20" y2="62.58" stroke="#000" stroke-width="0.9"/><text x="477.60" y="66.78" font-size="10.9">2</text><line x1="470.60" y1="102.95" x2="474.20" y2="102.95" stroke="#000" stroke-width="0.9"/><text x="477.60" y="107.15" font-size="10.9">0</text><line x1="470.60" y1="143.32" x2="474.20" y2="143.32" stroke="#000" stroke-width="0.9"/><text x="477.60" y="147.52" font-size="10.9">−2</text><line x1="470.60" y1="183.68" x2="474.20" y2="183.68" stroke="#000" stroke-width="0.9"/><text x="477.60" y="187.88" font-size="10.9">−4</text>
<svg x="552.50" y="16.50" width="162.00" height="162.00" viewBox="0 0 200 200" preserveAspectRatio="none" overflow="hidden">
<g filter="url(#f3)">
<rect x="-5" y="-5" width="210" height="210" fill="#797979"/>
<ellipse cx="159.3" cy="61.1" rx="15.2" ry="15.2" fill="url(#b1)" opacity="0.28" transform="rotate(0 159.3 61.1)"/><ellipse cx="71.6" cy="24.3" rx="6.5" ry="6.5" fill="url(#b1)" opacity="0.18" transform="rotate(0 71.6 24.3)"/><ellipse cx="-3.7" cy="171.6" rx="30.4" ry="23.9" fill="url(#b1)" opacity="0.36" transform="rotate(0 -3.7 171.6)"/><ellipse cx="0.6" cy="171.6" rx="5.4" ry="9.8" fill="url(#b1)" opacity="0.45" transform="rotate(0 0.6 171.6)"/><ellipse cx="3.7" cy="161.1" rx="6.5" ry="6.5" fill="url(#b1)" opacity="0.12" transform="rotate(0 3.7 161.1)"/><ellipse cx="181.2" cy="121.9" rx="9.8" ry="14.1" fill="url(#b1)" opacity="0.36" transform="rotate(25 181.2 121.9)"/><ellipse cx="199.8" cy="144.4" rx="6.5" ry="12.0" fill="url(#b1)" opacity="0.42" transform="rotate(0 199.8 144.4)"/><ellipse cx="135.1" cy="169.3" rx="10.9" ry="7.6" fill="url(#b1)" opacity="0.20" transform="rotate(0 135.1 169.3)"/><ellipse cx="183.3" cy="189.1" rx="9.8" ry="14.1" fill="url(#b1)" opacity="0.45" transform="rotate(-20 183.3 189.1)"/><ellipse cx="115.4" cy="53.6" rx="1.6" ry="1.6" fill="url(#b1)" opacity="0.45" transform="rotate(0 115.4 53.6)"/>
<circle cx="24.6" cy="121.4" r="0.65" fill="#fff" opacity="0.18"/>
<circle cx="66.1" cy="170.4" r="0.87" fill="#fff" opacity="0.24"/>
<circle cx="7.7" cy="145.8" r="0.76" fill="#fff" opacity="0.30"/>
<circle cx="51.9" cy="13.1" r="0.95" fill="#fff" opacity="0.17"/>
<circle cx="81.4" cy="64.0" r="0.63" fill="#fff" opacity="0.31"/>
<circle cx="168.4" cy="192.4" r="0.75" fill="#fff" opacity="0.34"/>
<circle cx="89.4" cy="133.3" r="0.63" fill="#fff" opacity="0.33"/>
<circle cx="60.4" cy="53.4" r="0.60" fill="#fff" opacity="0.24"/>
<circle cx="95.2" cy="126.7" r="0.99" fill="#fff" opacity="0.33"/>
<circle cx="180.4" cy="105.0" r="0.64" fill="#fff" opacity="0.16"/>
<circle cx="188.8" cy="82.7" r="0.95" fill="#fff" opacity="0.27"/>
<circle cx="125.2" cy="56.0" r="0.96" fill="#fff" opacity="0.17"/>
<circle cx="81.3" cy="196.7" r="0.89" fill="#fff" opacity="0.22"/>
<circle cx="111.9" cy="82.6" r="0.89" fill="#fff" opacity="0.21"/>
<circle cx="133.3" cy="140.1" r="0.84" fill="#fff" opacity="0.24"/>
<circle cx="42.4" cy="41.0" r="0.92" fill="#fff" opacity="0.19"/>
<circle cx="130.6" cy="60.7" r="0.66" fill="#fff" opacity="0.21"/>
<circle cx="62.8" cy="49.7" r="0.84" fill="#fff" opacity="0.18"/>
<circle cx="148.6" cy="143.1" r="0.88" fill="#fff" opacity="0.14"/>
<circle cx="187.0" cy="100.7" r="0.96" fill="#fff" opacity="0.17"/>
<circle cx="118.5" cy="191.2" r="1.00" fill="#fff" opacity="0.13"/>
<circle cx="96.3" cy="59.1" r="0.63" fill="#fff" opacity="0.25"/>
<circle cx="3.0" cy="121.8" r="0.95" fill="#fff" opacity="0.32"/>
<circle cx="189.0" cy="147.0" r="0.67" fill="#fff" opacity="0.22"/>
<circle cx="175.6" cy="52.0" r="0.78" fill="#fff" opacity="0.26"/>
<circle cx="22.3" cy="98.1" r="0.62" fill="#fff" opacity="0.19"/>
<circle cx="149.4" cy="142.2" r="0.98" fill="#fff" opacity="0.30"/>
<circle cx="44.2" cy="179.4" r="0.82" fill="#fff" opacity="0.31"/>
</g>
<g class="gr" transform="translate(85.50 85.50) scale(1.0000)"><g transform="translate(0 0)"><rect x="0" fill="#21918c" style="width:3.03px"/><rect x="3" fill="#1fa088" style="width:3.03px"/><rect x="6" fill="#21918c" style="width:4.03px"/><rect x="10" fill="#1fa088"/><rect x="11" fill="#21918c"/><rect x="12" fill="#33638d"/><rect x="13" fill="#21918c"/><rect x="14" fill="#1fa088"/><rect x="15" fill="#26828e"/><rect x="16" fill="#21918c" style="width:5.03px"/><rect x="21" fill="#1fa088"/><rect x="22" fill="#21918c"/><rect x="23" fill="#1fa088"/><rect x="24" fill="#21918c"/><rect x="25" fill="#26828e"/><rect x="26" fill="#21918c" style="width:4.03px"/></g>
<g transform="translate(0 1)"><rect x="0" fill="#1fa088" style="width:2.03px"/><rect x="2" fill="#26828e" style="width:3.03px"/><rect x="5" fill="#1fa088" style="width:2.03px"/><rect x="7" fill="#2c728e"/><rect x="8" fill="#21918c"/><rect x="9" fill="#26828e" style="width:3.03px"/><rect x="12" fill="#21918c" style="width:2.03px"/><rect x="14" fill="#26828e"/><rect x="15" fill="#21918c"/><rect x="16" fill="#1fa088" style="width:2.03px"/><rect x="18" fill="#21918c"/><rect x="19" fill="#1fa088" style="width:2.03px"/><rect x="21" fill="#26828e"/><rect x="22" fill="#21918c"/><rect x="23" fill="#2c728e"/><rect x="24" fill="#21918c"/><rect x="25" fill="#1fa088"/><rect x="26" fill="#26828e" style="width:2.03px"/><rect x="28" fill="#21918c"/><rect x="29" fill="#26828e"/></g>
<g transform="translate(0 2)"><rect x="0" fill="#21918c" style="width:4.03px"/><rect x="4" fill="#26828e"/><rect x="5" fill="#21918c" style="width:2.03px"/><rect x="7" fill="#2c728e"/><rect x="8" fill="#26828e"/><rect x="9" fill="#1fa088" style="width:3.03px"/><rect x="12" fill="#21918c"/><rect x="13" fill="#26828e"/><rect x="14" fill="#21918c" style="width:2.03px"/><rect x="16" fill="#2c728e"/><rect x="17" fill="#1fa088" style="width:3.03px"/><rect x="20" fill="#2c728e" style="width:2.03px"/><rect x="22" fill="#21918c"/><rect x="23" fill="#2c728e"/><rect x="24" fill="#26828e"/><rect x="25" fill="#1fa088"/><rect x="26" fill="#21918c"/><rect x="27" fill="#28ae80"/><rect x="28" fill="#1fa088"/><rect x="29" fill="#21918c"/></g>
<g transform="translate(0 3)"><rect x="0" fill="#1fa088"/><rect x="1" fill="#26828e"/><rect x="2" fill="#1fa088"/><rect x="3" fill="#21918c"/><rect x="4" fill="#1fa088"/><rect x="5" fill="#28ae80" style="width:2.03px"/><rect x="7" fill="#21918c"/><rect x="8" fill="#28ae80"/><rect x="9" fill="#2c728e" style="width:2.03px"/><rect x="11" fill="#21918c" style="width:3.03px"/><rect x="14" fill="#1fa088"/><rect x="15" fill="#26828e" style="width:2.03px"/><rect x="17" fill="#1fa088" style="width:3.03px"/><rect x="20" fill="#2c728e"/><rect x="21" fill="#21918c"/><rect x="22" fill="#33638d"/><rect x="23" fill="#2c728e"/><rect x="24" fill="#26828e"/><rect x="25" fill="#1fa088"/><rect x="26" fill="#26828e"/><rect x="27" fill="#1fa088" style="width:2.03px"/><rect x="29" fill="#21918c"/></g>
<g transform="translate(0 4)"><rect x="0" fill="#1fa088"/><rect x="1" fill="#26828e"/><rect x="2" fill="#1fa088" style="width:2.03px"/><rect x="4" fill="#28ae80"/><rect x="5" fill="#21918c"/><rect x="6" fill="#26828e"/><rect x="7" fill="#21918c"/><rect x="8" fill="#26828e"/><rect x="9" fill="#33638d"/><rect x="10" fill="#2c728e"/><rect x="11" fill="#1fa088" style="width:3.03px"/><rect x="14" fill="#21918c" style="width:3.03px"/><rect x="17" fill="#1fa088" style="width:2.03px"/><rect x="19" fill="#21918c"/><rect x="20" fill="#1fa088"/><rect x="21" fill="#21918c" style="width:2.03px"/><rect x="23" fill="#2c728e"/><rect x="24" fill="#21918c" style="width:6.03px"/></g>
<g transform="translate(0 5)"><rect x="0" fill="#1fa088"/><rect x="1" fill="#21918c" style="width:2.03px"/><rect x="3" fill="#28ae80"/><rect x="4" fill="#21918c"/><rect x="5" fill="#28ae80" style="width:2.03px"/><rect x="7" fill="#21918c"/><rect x="8" fill="#1fa088"/><rect x="9" fill="#26828e"/><rect x="10" fill="#1fa088" style="width:3.03px"/><rect x="13" fill="#28ae80"/><rect x="14" fill="#21918c"/><rect x="15" fill="#28ae80"/><rect x="16" fill="#1fa088" style="width:2.03px"/><rect x="18" fill="#28ae80" style="width:3.03px"/><rect x="21" fill="#1fa088"/><rect x="22" fill="#26828e" style="width:2.03px"/><rect x="24" fill="#21918c"/><rect x="25" fill="#28ae80" style="width:2.03px"/><rect x="27" fill="#1fa088"/><rect x="28" fill="#2c728e"/><rect x="29" fill="#26828e"/></g>
<g transform="translate(0 6)"><rect x="0" fill="#1fa088"/><rect x="1" fill="#21918c"/><rect x="2" fill="#1fa088" style="width:2.03px"/><rect x="4" fill="#21918c"/><rect x="5" fill="#28ae80"/><rect x="6" fill="#1fa088"/><rect x="7" fill="#2c728e"/><rect x="8" fill="#28ae80" style="width:3.03px"/><rect x="11" fill="#1fa088"/><rect x="12" fill="#26828e"/><rect x="13" fill="#2c728e" style="width:2.03px"/><rect x="15" fill="#33638d"/><rect x="16" fill="#1fa088"/><rect x="17" fill="#2c728e"/><rect x="18" fill="#3fbc73"/><rect x="19" fill="#5ec962"/><rect x="20" fill="#28ae80"/><rect x="21" fill="#21918c"/><rect x="22" fill="#26828e"/><rect x="23" fill="#21918c" style="width:2.03px"/><rect x="25" fill="#28ae80"/><rect x="26" fill="#1fa088"/><rect x="27" fill="#21918c"/><rect x="28" fill="#26828e"/><rect x="29" fill="#28ae80"/></g>
<g transform="translate(0 7)"><rect x="0" fill="#28ae80"/><rect x="1" fill="#1fa088"/><rect x="2" fill="#2c728e" style="width:2.03px"/><rect x="4" fill="#21918c"/><rect x="5" fill="#1fa088" style="width:3.03px"/><rect x="8" fill="#28ae80"/><rect x="9" fill="#3fbc73" style="width:2.03px"/><rect x="11" fill="#33638d" style="width:3.03px"/><rect x="14" fill="#26828e" style="width:2.03px"/><rect x="16" fill="#21918c"/><rect x="17" fill="#3b528b"/><rect x="18" fill="#26828e"/><rect x="19" fill="#33638d"/><rect x="20" fill="#1fa088" style="width:3.03px"/><rect x="23" fill="#21918c"/><rect x="24" fill="#1fa088"/><rect x="25" fill="#28ae80"/><rect x="26" fill="#1fa088"/><rect x="27" fill="#21918c"/><rect x="28" fill="#28ae80"/><rect x="29" fill="#1fa088"/></g>
<g transform="translate(0 8)"><rect x="0" fill="#1fa088"/><rect x="1" fill="#2c728e"/><rect x="2" fill="#21918c" style="width:2.03px"/><rect x="4" fill="#1fa088"/><rect x="5" fill="#21918c"/><rect x="6" fill="#2c728e"/><rect x="7" fill="#26828e"/><rect x="8" fill="#21918c"/><rect x="9" fill="#33638d" style="width:2.03px"/><rect x="11" fill="#2c728e"/><rect x="12" fill="#33638d" style="width:2.03px"/><rect x="14" fill="#21918c"/><rect x="15" fill="#3fbc73"/><rect x="16" fill="#33638d"/><rect x="17" fill="#3b528b" style="width:2.03px"/><rect x="19" fill="#33638d"/><rect x="20" fill="#26828e"/><rect x="21" fill="#28ae80" style="width:2.03px"/><rect x="23" fill="#21918c"/><rect x="24" fill="#1fa088"/><rect x="25" fill="#28ae80"/><rect x="26" fill="#1fa088"/><rect x="27" fill="#28ae80" style="width:2.03px"/><rect x="29" fill="#1fa088"/></g>
<g transform="translate(0 9)"><rect x="0" fill="#28ae80"/><rect x="1" fill="#1fa088" style="width:2.03px"/><rect x="3" fill="#28ae80"/><rect x="4" fill="#2c728e"/><rect x="5" fill="#21918c" style="width:2.03px"/><rect x="7" fill="#33638d"/><rect x="8" fill="#3b528b"/><rect x="9" fill="#2c728e"/><rect x="10" fill="#3fbc73"/><rect x="11" fill="#5ec962"/><rect x="12" fill="#3fbc73" style="width:4.03px"/><rect x="16" fill="#28ae80"/><rect x="17" fill="#33638d" style="width:2.03px"/><rect x="19" fill="#26828e"/><rect x="20" fill="#33638d"/><rect x="21" fill="#2c728e"/><rect x="22" fill="#1fa088"/><rect x="23" fill="#21918c"/><rect x="24" fill="#26828e" style="width:3.03px"/><rect x="27" fill="#1fa088"/><rect x="28" fill="#28ae80"/><rect x="29" fill="#1fa088"/></g>
<g transform="translate(0 10)"><rect x="0" fill="#21918c"/><rect x="1" fill="#26828e"/><rect x="2" fill="#1fa088"/><rect x="3" fill="#21918c"/><rect x="4" fill="#1fa088" style="width:2.03px"/><rect x="6" fill="#21918c"/><rect x="7" fill="#2c728e" style="width:2.03px"/><rect x="9" fill="#33638d"/><rect x="10" fill="#28ae80"/><rect x="11" fill="#3fbc73"/><rect x="12" fill="#28ae80" style="width:2.03px"/><rect x="14" fill="#3fbc73" style="width:3.03px"/><rect x="17" fill="#28ae80" style="width:3.03px"/><rect x="20" fill="#26828e"/><rect x="21" fill="#21918c"/><rect x="22" fill="#2c728e"/><rect x="23" fill="#21918c"/><rect x="24" fill="#26828e"/><rect x="25" fill="#21918c"/><rect x="26" fill="#2c728e"/><rect x="27" fill="#21918c" style="width:2.03px"/><rect x="29" fill="#1fa088"/></g>
<g transform="translate(0 11)"><rect x="0" fill="#1fa088" style="width:2.03px"/><rect x="2" fill="#26828e"/><rect x="3" fill="#21918c" style="width:2.03px"/><rect x="5" fill="#26828e"/><rect x="6" fill="#21918c"/><rect x="7" fill="#2c728e" style="width:2.03px"/><rect x="9" fill="#28ae80" style="width:3.03px"/><rect x="12" fill="#3b528b"/><rect x="13" fill="#28ae80"/><rect x="14" fill="#33638d"/><rect x="15" fill="#1fa088"/><rect x="16" fill="#28ae80"/><rect x="17" fill="#3b528b"/><rect x="18" fill="#3fbc73" style="width:2.03px"/><rect x="20" fill="#1fa088"/><rect x="21" fill="#26828e"/><rect x="22" fill="#2c728e" style="width:2.03px"/><rect x="24" fill="#26828e"/><rect x="25" fill="#21918c"/><rect x="26" fill="#1fa088" style="width:4.03px"/></g>
<g transform="translate(0 12)"><rect x="0" fill="#21918c"/><rect x="1" fill="#28ae80"/><rect x="2" fill="#26828e"/><rect x="3" fill="#1fa088"/><rect x="4" fill="#26828e" style="width:3.03px"/><rect x="7" fill="#1fa088"/><rect x="8" fill="#28ae80"/><rect x="9" fill="#2c728e"/><rect x="10" fill="#26828e"/><rect x="11" fill="#3fbc73"/><rect x="12" fill="#5ec962"/><rect x="13" fill="#28ae80"/><rect x="14" fill="#424086" style="width:2.03px"/><rect x="16" fill="#2c728e"/><rect x="17" fill="#5ec962"/><rect x="18" fill="#3fbc73"/><rect x="19" fill="#28ae80" style="width:2.03px"/><rect x="21" fill="#1fa088"/><rect x="22" fill="#21918c" style="width:2.03px"/><rect x="24" fill="#2c728e" style="width:2.03px"/><rect x="26" fill="#1fa088" style="width:2.03px"/><rect x="28" fill="#21918c" style="width:2.03px"/></g>
<g transform="translate(0 13)"><rect x="0" fill="#1fa088"/><rect x="1" fill="#21918c"/><rect x="2" fill="#2c728e" style="width:3.03px"/><rect x="5" fill="#21918c" style="width:2.03px"/><rect x="7" fill="#28ae80" style="width:3.03px"/><rect x="10" fill="#21918c"/><rect x="11" fill="#3fbc73"/><rect x="12" fill="#424086"/><rect x="13" fill="#5ec962"/><rect x="14" fill="#addc30" style="width:2.03px"/><rect x="16" fill="#33638d"/><rect x="17" fill="#3b528b"/><rect x="18" fill="#424086"/><rect x="19" fill="#33638d"/><rect x="20" fill="#28ae80" style="width:2.03px"/><rect x="22" fill="#21918c"/><rect x="23" fill="#1fa088"/><rect x="24" fill="#21918c"/><rect x="25" fill="#26828e"/><rect x="26" fill="#2c728e"/><rect x="27" fill="#26828e" style="width:2.03px"/><rect x="29" fill="#21918c"/></g>
<g transform="translate(0 14)"><rect x="0" fill="#1fa088"/><rect x="1" fill="#2c728e"/><rect x="2" fill="#26828e"/><rect x="3" fill="#28ae80" style="width:3.03px"/><rect x="6" fill="#26828e"/><rect x="7" fill="#28ae80"/><rect x="8" fill="#2c728e" style="width:2.03px"/><rect x="10" fill="#33638d"/><rect x="11" fill="#28ae80"/><rect x="12" fill="#3b528b"/><rect x="13" fill="#addc30"/><rect x="14" fill="#3b528b"/><rect x="15" fill="#addc30"/><rect x="16" fill="#84d44b"/><rect x="17" fill="#26828e"/><rect x="18" fill="#28ae80" style="width:3.03px"/><rect x="21" fill="#1fa088"/><rect x="22" fill="#26828e" style="width:3.03px"/><rect x="25" fill="#28ae80"/><rect x="26" fill="#26828e" style="width:3.03px"/><rect x="29" fill="#21918c"/></g>
<g transform="translate(0 15)"><rect x="0" fill="#28ae80"/><rect x="1" fill="#1fa088"/><rect x="2" fill="#21918c" style="width:4.03px"/><rect x="6" fill="#26828e"/><rect x="7" fill="#28ae80"/><rect x="8" fill="#1fa088"/><rect x="9" fill="#26828e"/><rect x="10" fill="#3b528b"/><rect x="11" fill="#84d44b"/><rect x="12" fill="#3b528b"/><rect x="13" fill="#5ec962"/><rect x="14" fill="#440154" style="width:2.03px"/><rect x="16" fill="#84d44b"/><rect x="17" fill="#28ae80"/><rect x="18" fill="#33638d"/><rect x="19" fill="#28ae80"/><rect x="20" fill="#21918c"/><rect x="21" fill="#33638d" style="width:3.03px"/><rect x="24" fill="#2c728e" style="width:4.03px"/><rect x="28" fill="#26828e" style="width:2.03px"/></g>
<g transform="translate(0 16)"><rect x="0" fill="#1fa088"/><rect x="1" fill="#26828e"/><rect x="2" fill="#2c728e" style="width:2.03px"/><rect x="4" fill="#21918c" style="width:2.03px"/><rect x="6" fill="#26828e"/><rect x="7" fill="#28ae80" style="width:2.03px"/><rect x="9" fill="#3fbc73"/><rect x="10" fill="#3b528b"/><rect x="11" fill="#28ae80"/><rect x="12" fill="#2c728e"/><rect x="13" fill="#addc30"/><rect x="14" fill="#3b528b"/><rect x="15" fill="#addc30"/><rect x="16" fill="#84d44b"/><rect x="17" fill="#3fbc73"/><rect x="18" fill="#3b528b"/><rect x="19" fill="#28ae80"/><rect x="20" fill="#1fa088"/><rect x="21" fill="#2c728e" style="width:2.03px"/><rect x="23" fill="#26828e" style="width:3.03px"/><rect x="26" fill="#2c728e"/><rect x="27" fill="#21918c" style="width:3.03px"/></g>
<g transform="translate(0 17)"><rect x="0" fill="#1fa088"/><rect x="1" fill="#21918c"/><rect x="2" fill="#2c728e"/><rect x="3" fill="#26828e"/><rect x="4" fill="#21918c"/><rect x="5" fill="#26828e"/><rect x="6" fill="#2c728e"/><rect x="7" fill="#26828e"/><rect x="8" fill="#28ae80"/><rect x="9" fill="#3fbc73"/><rect x="10" fill="#33638d"/><rect x="11" fill="#3b528b" style="width:2.03px"/><rect x="13" fill="#84d44b"/><rect x="14" fill="#addc30" style="width:2.03px"/><rect x="16" fill="#84d44b"/><rect x="17" fill="#424086"/><rect x="18" fill="#3b528b"/><rect x="19" fill="#28ae80"/><rect x="20" fill="#26828e"/><rect x="21" fill="#2c728e"/><rect x="22" fill="#1fa088"/><rect x="23" fill="#28ae80" style="width:3.03px"/><rect x="26" fill="#1fa088" style="width:2.03px"/><rect x="28" fill="#21918c"/><rect x="29" fill="#1fa088"/></g>
<g transform="translate(0 18)"><rect x="0" fill="#21918c" style="width:2.03px"/><rect x="2" fill="#2c728e"/><rect x="3" fill="#1fa088"/><rect x="4" fill="#26828e" style="width:2.03px"/><rect x="6" fill="#21918c"/><rect x="7" fill="#26828e"/><rect x="8" fill="#1fa088"/><rect x="9" fill="#3fbc73"/><rect x="10" fill="#28ae80"/><rect x="11" fill="#3fbc73" style="width:2.03px"/><rect x="13" fill="#3b528b" style="width:2.03px"/><rect x="15" fill="#28ae80"/><rect x="16" fill="#3b528b"/><rect x="17" fill="#3fbc73" style="width:2.03px"/><rect x="19" fill="#28ae80"/><rect x="20" fill="#26828e" style="width:2.03px"/><rect x="22" fill="#1fa088"/><rect x="23" fill="#28ae80" style="width:3.03px"/><rect x="26" fill="#1fa088" style="width:2.03px"/><rect x="28" fill="#21918c"/><rect x="29" fill="#1fa088"/></g>
<g transform="translate(0 19)"><rect x="0" fill="#1fa088" style="width:3.03px"/><rect x="3" fill="#33638d"/><rect x="4" fill="#1fa088"/><rect x="5" fill="#28ae80"/><rect x="6" fill="#21918c" style="width:3.03px"/><rect x="9" fill="#28ae80" style="width:2.03px"/><rect x="11" fill="#21918c"/><rect x="12" fill="#33638d"/><rect x="13" fill="#28ae80"/><rect x="14" fill="#3b528b" style="width:2.03px"/><rect x="16" fill="#1fa088" style="width:2.03px"/><rect x="18" fill="#3fbc73"/><rect x="19" fill="#28ae80"/><rect x="20" fill="#2c728e" style="width:2.03px"/><rect x="22" fill="#26828e"/><rect x="23" fill="#1fa088"/><rect x="24" fill="#26828e"/><rect x="25" fill="#2c728e"/><rect x="26" fill="#21918c"/><rect x="27" fill="#1fa088"/><rect x="28" fill="#26828e"/><rect x="29" fill="#1fa088"/></g>
<g transform="translate(0 20)"><rect x="0" fill="#1fa088" style="width:2.03px"/><rect x="2" fill="#26828e"/><rect x="3" fill="#1fa088" style="width:4.03px"/><rect x="7" fill="#26828e"/><rect x="8" fill="#21918c"/><rect x="9" fill="#33638d" style="width:2.03px"/><rect x="11" fill="#28ae80"/><rect x="12" fill="#3fbc73"/><rect x="13" fill="#28ae80"/><rect x="14" fill="#3fbc73" style="width:2.03px"/><rect x="16" fill="#28ae80" style="width:2.03px"/><rect x="18" fill="#26828e"/><rect x="19" fill="#33638d" style="width:2.03px"/><rect x="21" fill="#2c728e"/><rect x="22" fill="#1fa088"/><rect x="23" fill="#21918c"/><rect x="24" fill="#28ae80"/><rect x="25" fill="#1fa088"/><rect x="26" fill="#21918c" style="width:4.03px"/></g>
<g transform="translate(0 21)"><rect x="0" fill="#1fa088" style="width:2.03px"/><rect x="2" fill="#2c728e"/><rect x="3" fill="#21918c"/><rect x="4" fill="#1fa088"/><rect x="5" fill="#26828e"/><rect x="6" fill="#1fa088" style="width:2.03px"/><rect x="8" fill="#2c728e"/><rect x="9" fill="#26828e"/><rect x="10" fill="#1fa088"/><rect x="11" fill="#3fbc73" style="width:2.03px"/><rect x="13" fill="#28ae80" style="width:2.03px"/><rect x="15" fill="#3fbc73"/><rect x="16" fill="#28ae80"/><rect x="17" fill="#33638d"/><rect x="18" fill="#3fbc73"/><rect x="19" fill="#26828e" style="width:3.03px"/><rect x="22" fill="#21918c" style="width:3.03px"/><rect x="25" fill="#26828e"/><rect x="26" fill="#1fa088"/><rect x="27" fill="#21918c" style="width:2.03px"/><rect x="29" fill="#1fa088"/></g>
<g transform="translate(0 22)"><rect x="0" fill="#1fa088"/><rect x="1" fill="#21918c"/><rect x="2" fill="#2c728e"/><rect x="3" fill="#21918c" style="width:2.03px"/><rect x="5" fill="#1fa088"/><rect x="6" fill="#21918c"/><rect x="7" fill="#26828e"/><rect x="8" fill="#28ae80" style="width:2.03px"/><rect x="10" fill="#26828e"/><rect x="11" fill="#472d7b"/><rect x="12" fill="#424086"/><rect x="13" fill="#33638d"/><rect x="14" fill="#21918c" style="width:2.03px"/><rect x="16" fill="#26828e"/><rect x="17" fill="#33638d"/><rect x="18" fill="#2c728e" style="width:2.03px"/><rect x="20" fill="#26828e"/><rect x="21" fill="#1fa088" style="width:2.03px"/><rect x="23" fill="#21918c"/><rect x="24" fill="#26828e"/><rect x="25" fill="#21918c"/><rect x="26" fill="#1fa088"/><rect x="27" fill="#28ae80"/><rect x="28" fill="#21918c"/><rect x="29" fill="#440154"/></g>
<g transform="translate(0 23)"><rect x="0" fill="#28ae80"/><rect x="1" fill="#2c728e"/><rect x="2" fill="#26828e"/><rect x="3" fill="#21918c" style="width:2.03px"/><rect x="5" fill="#28ae80"/><rect x="6" fill="#1fa088"/><rect x="7" fill="#26828e"/><rect x="8" fill="#3fbc73" style="width:2.03px"/><rect x="10" fill="#21918c"/><rect x="11" fill="#3fbc73"/><rect x="12" fill="#26828e" style="width:2.03px"/><rect x="14" fill="#2c728e" style="width:4.03px"/><rect x="18" fill="#1fa088"/><rect x="19" fill="#2c728e" style="width:2.03px"/><rect x="21" fill="#21918c"/><rect x="22" fill="#2c728e"/><rect x="23" fill="#26828e"/><rect x="24" fill="#1fa088"/><rect x="25" fill="#28ae80"/><rect x="26" fill="#1fa088"/><rect x="27" fill="#26828e"/><rect x="28" fill="#21918c"/><rect x="29" fill="#84d44b"/></g>
<g transform="translate(0 24)"><rect x="0" fill="#26828e"/><rect x="1" fill="#1fa088"/><rect x="2" fill="#21918c"/><rect x="3" fill="#28ae80"/><rect x="4" fill="#2c728e"/><rect x="5" fill="#21918c"/><rect x="6" fill="#1fa088"/><rect x="7" fill="#21918c"/><rect x="8" fill="#28ae80"/><rect x="9" fill="#21918c" style="width:2.03px"/><rect x="11" fill="#28ae80"/><rect x="12" fill="#1fa088" style="width:2.03px"/><rect x="14" fill="#26828e"/><rect x="15" fill="#2c728e"/><rect x="16" fill="#26828e"/><rect x="17" fill="#21918c"/><rect x="18" fill="#1fa088"/><rect x="19" fill="#2c728e"/><rect x="20" fill="#26828e"/><rect x="21" fill="#1fa088"/><rect x="22" fill="#21918c" style="width:2.03px"/><rect x="24" fill="#1fa088" style="width:4.03px"/><rect x="28" fill="#26828e"/><rect x="29" fill="#1fa088"/></g>
<g transform="translate(0 25)"><rect x="0" fill="#21918c"/><rect x="1" fill="#1fa088"/><rect x="2" fill="#21918c"/><rect x="3" fill="#2c728e"/><rect x="4" fill="#1fa088" style="width:2.03px"/><rect x="6" fill="#33638d"/><rect x="7" fill="#21918c"/><rect x="8" fill="#1fa088"/><rect x="9" fill="#26828e"/><rect x="10" fill="#21918c" style="width:8.03px"/><rect x="18" fill="#28ae80" style="width:3.03px"/><rect x="21" fill="#26828e"/><rect x="22" fill="#2c728e"/><rect x="23" fill="#26828e"/><rect x="24" fill="#21918c"/><rect x="25" fill="#28ae80" style="width:2.03px"/><rect x="27" fill="#1fa088" style="width:2.03px"/><rect x="29" fill="#21918c"/></g>
<g transform="translate(0 26)"><rect x="0" fill="#1fa088"/><rect x="1" fill="#21918c"/><rect x="2" fill="#26828e"/><rect x="3" fill="#21918c"/><rect x="4" fill="#1fa088"/><rect x="5" fill="#2c728e"/><rect x="6" fill="#1fa088"/><rect x="7" fill="#26828e" style="width:2.03px"/><rect x="9" fill="#21918c" style="width:2.03px"/><rect x="11" fill="#1fa088"/><rect x="12" fill="#26828e"/><rect x="13" fill="#21918c" style="width:3.03px"/><rect x="16" fill="#28ae80"/><rect x="17" fill="#1fa088"/><rect x="18" fill="#21918c"/><rect x="19" fill="#1fa088"/><rect x="20" fill="#21918c"/><rect x="21" fill="#26828e"/><rect x="22" fill="#2c728e" style="width:2.03px"/><rect x="24" fill="#21918c"/><rect x="25" fill="#28ae80" style="width:2.03px"/><rect x="27" fill="#1fa088"/><rect x="28" fill="#21918c" style="width:2.03px"/></g>
<g transform="translate(0 27)"><rect x="0" fill="#1fa088"/><rect x="1" fill="#21918c" style="width:2.03px"/><rect x="3" fill="#26828e"/><rect x="4" fill="#1fa088"/><rect x="5" fill="#21918c"/><rect x="6" fill="#2c728e"/><rect x="7" fill="#28ae80" style="width:2.03px"/><rect x="9" fill="#1fa088" style="width:2.03px"/><rect x="11" fill="#26828e"/><rect x="12" fill="#21918c"/><rect x="13" fill="#28ae80"/><rect x="14" fill="#21918c" style="width:2.03px"/><rect x="16" fill="#1fa088"/><rect x="17" fill="#2c728e"/><rect x="18" fill="#1fa088" style="width:5.03px"/><rect x="23" fill="#26828e"/><rect x="24" fill="#21918c"/><rect x="25" fill="#1fa088" style="width:2.03px"/><rect x="27" fill="#26828e"/><rect x="28" fill="#21918c"/><rect x="29" fill="#26828e"/></g>
<g transform="translate(0 28)"><rect x="0" fill="#1fa088"/><rect x="1" fill="#2c728e"/><rect x="2" fill="#21918c"/><rect x="3" fill="#28ae80"/><rect x="4" fill="#1fa088" style="width:2.03px"/><rect x="6" fill="#21918c"/><rect x="7" fill="#28ae80"/><rect x="8" fill="#21918c"/><rect x="9" fill="#26828e" style="width:2.03px"/><rect x="11" fill="#28ae80"/><rect x="12" fill="#21918c" style="width:2.03px"/><rect x="14" fill="#26828e" style="width:2.03px"/><rect x="16" fill="#21918c"/><rect x="17" fill="#26828e" style="width:2.03px"/><rect x="19" fill="#28ae80"/><rect x="20" fill="#21918c"/><rect x="21" fill="#28ae80" style="width:2.03px"/><rect x="23" fill="#21918c"/><rect x="24" fill="#2c728e"/><rect x="25" fill="#26828e"/><rect x="26" fill="#21918c"/><rect x="27" fill="#1fa088"/><rect x="28" fill="#26828e"/><rect x="29" fill="#21918c"/></g>
<g transform="translate(0 29)"><rect x="0" fill="#1fa088"/><rect x="1" fill="#21918c" style="width:2.03px"/><rect x="3" fill="#28ae80" style="width:2.03px"/><rect x="5" fill="#26828e"/><rect x="6" fill="#21918c"/><rect x="7" fill="#1fa088"/><rect x="8" fill="#26828e"/><rect x="9" fill="#21918c"/><rect x="10" fill="#26828e"/><rect x="11" fill="#1fa088"/><rect x="12" fill="#26828e"/><rect x="13" fill="#1fa088"/><rect x="14" fill="#21918c"/><rect x="15" fill="#26828e"/><rect x="16" fill="#1fa088"/><rect x="17" fill="#2c728e"/><rect x="18" fill="#21918c"/><rect x="19" fill="#26828e"/><rect x="20" fill="#21918c"/><rect x="21" fill="#1fa088" style="width:2.03px"/><rect x="23" fill="#26828e"/><rect x="24" fill="#21918c" style="width:2.03px"/><rect x="26" fill="#26828e"/><rect x="27" fill="#21918c" style="width:3.03px"/></g>
</g>
</svg>
<rect x="552.50" y="16.50" width="162.00" height="162.00" fill="none" stroke="#000" stroke-width="0.9"/>
<line x1="552.90" y1="178.50" x2="552.90" y2="182.10" stroke="#000" stroke-width="0.9"/><text x="552.90" y="194.10" font-size="10.9" text-anchor="middle">0</text><line x1="593.40" y1="178.50" x2="593.40" y2="182.10" stroke="#000" stroke-width="0.9"/><text x="593.40" y="194.10" font-size="10.9" text-anchor="middle">50</text><line x1="633.90" y1="178.50" x2="633.90" y2="182.10" stroke="#000" stroke-width="0.9"/><text x="633.90" y="194.10" font-size="10.9" text-anchor="middle">100</text><line x1="674.40" y1="178.50" x2="674.40" y2="182.10" stroke="#000" stroke-width="0.9"/><text x="674.40" y="194.10" font-size="10.9" text-anchor="middle">150</text><line x1="548.90" y1="16.91" x2="552.50" y2="16.91" stroke="#000" stroke-width="0.9"/><text x="544.90" y="21.11" font-size="10.9" text-anchor="end">0</text><line x1="548.90" y1="57.41" x2="552.50" y2="57.41" stroke="#000" stroke-width="0.9"/><text x="544.90" y="61.61" font-size="10.9" text-anchor="end">50</text><line x1="548.90" y1="97.91" x2="552.50" y2="97.91" stroke="#000" stroke-width="0.9"/><text x="544.90" y="102.11" font-size="10.9" text-anchor="end">100</text><line x1="548.90" y1="138.41" x2="552.50" y2="138.41" stroke="#000" stroke-width="0.9"/><text x="544.90" y="142.60" font-size="10.9" text-anchor="end">150</text>
<text x="633.50" y="9.70" font-size="13" text-anchor="middle">data-HybPSF</text>
<rect x="724.40" y="9.50" width="9" height="176.00" fill="url(#vg)"/><rect x="724.40" y="9.50" width="9.00" height="176.00" fill="none" stroke="#000" stroke-width="0.9"/><line x1="733.40" y1="10.20" x2="737.00" y2="10.20" stroke="#000" stroke-width="0.9"/><text x="740.40" y="14.40" font-size="10.9">4</text><line x1="733.40" y1="32.62" x2="737.00" y2="32.62" stroke="#000" stroke-width="0.9"/><text x="740.40" y="36.82" font-size="10.9">3</text><line x1="733.40" y1="55.05" x2="737.00" y2="55.05" stroke="#000" stroke-width="0.9"/><text x="740.40" y="59.25" font-size="10.9">2</text><line x1="733.40" y1="77.48" x2="737.00" y2="77.48" stroke="#000" stroke-width="0.9"/><text x="740.40" y="81.68" font-size="10.9">1</text><line x1="733.40" y1="99.91" x2="737.00" y2="99.91" stroke="#000" stroke-width="0.9"/><text x="740.40" y="104.11" font-size="10.9">0</text><line x1="733.40" y1="122.34" x2="737.00" y2="122.34" stroke="#000" stroke-width="0.9"/><text x="740.40" y="126.54" font-size="10.9">−1</text><line x1="733.40" y1="144.77" x2="737.00" y2="144.77" stroke="#000" stroke-width="0.9"/><text x="740.40" y="148.97" font-size="10.9">−2</text><line x1="733.40" y1="167.20" x2="737.00" y2="167.20" stroke="#000" stroke-width="0.9"/><text x="740.40" y="171.40" font-size="10.9">−3</text>
<g shape-rendering="crispEdges"><g class="gr" transform="translate(290.00 201.50) scale(5.4000)"><g transform="translate(0 0)"><rect x="0" fill="#1f978b" style="width:3.03px"/><rect x="3" fill="#26ad81" style="width:3.03px"/><rect x="6" fill="#1f978b" style="width:4.03px"/><rect x="10" fill="#2cb17e"/><rect x="11" fill="#1fa287" style="width:2.03px"/><rect x="13" fill="#1f978b"/><rect x="14" fill="#26ad81"/><rect x="15" fill="#228d8d"/><rect x="16" fill="#1f978b" style="width:2.03px"/><rect x="18" fill="#21918c"/><rect x="19" fill="#1f978b"/><rect x="20" fill="#1e9c89"/><rect x="21" fill="#26ad81"/><rect x="22" fill="#1f978b"/><rect x="23" fill="#26ad81"/><rect x="24" fill="#1fa287"/><rect x="25" fill="#1f978b" style="width:3.03px"/><rect x="28" fill="#228d8d"/><rect x="29" fill="#1f978b"/></g>
<g transform="translate(0 1)"><rect x="0" fill="#26ad81"/><rect x="1" fill="#23a983"/><rect x="2" fill="#228d8d" style="width:2.03px"/><rect x="4" fill="#25848e"/><rect x="5" fill="#26ad81" style="width:2.03px"/><rect x="7" fill="#38598c"/><rect x="8" fill="#23a983"/><rect x="9" fill="#228d8d" style="width:3.03px"/><rect x="12" fill="#1fa287" style="width:2.03px"/><rect x="14" fill="#228d8d"/><rect x="15" fill="#1f978b"/><rect x="16" fill="#1fa287" style="width:2.03px"/><rect x="18" fill="#228d8d"/><rect x="19" fill="#26ad81" style="width:2.03px"/><rect x="21" fill="#40bd72"/><rect x="22" fill="#1fa287"/><rect x="23" fill="#29798e"/><rect x="24" fill="#228d8d"/><rect x="25" fill="#1fa287"/><rect x="26" fill="#228d8d" style="width:2.03px"/><rect x="28" fill="#1f978b"/><rect x="29" fill="#25848e"/></g>
<g transform="translate(0 2)"><rect x="0" fill="#1e9c89" style="width:2.03px"/><rect x="2" fill="#21918c" style="width:2.03px"/><rect x="4" fill="#228d8d"/><rect x="5" fill="#21918c" style="width:2.03px"/><rect x="7" fill="#277f8e"/><rect x="8" fill="#1f978b"/><rect x="9" fill="#26ad81" style="width:3.03px"/><rect x="12" fill="#1f978b"/><rect x="13" fill="#25848e"/><rect x="14" fill="#1f978b" style="width:2.03px"/><rect x="16" fill="#26ad81" style="width:4.03px"/><rect x="20" fill="#1f978b"/><rect x="21" fill="#29798e"/><rect x="22" fill="#1fa287"/><rect x="23" fill="#29798e"/><rect x="24" fill="#25848e"/><rect x="25" fill="#1fa287"/><rect x="26" fill="#1f978b"/><rect x="27" fill="#40bd72"/><rect x="28" fill="#1fa287"/><rect x="29" fill="#1f978b"/></g>
<g transform="translate(0 3)"><rect x="0" fill="#1fa287"/><rect x="1" fill="#25848e"/><rect x="2" fill="#1e9c89"/><rect x="3" fill="#1f978b"/><rect x="4" fill="#26ad81"/><rect x="5" fill="#35b779"/><rect x="6" fill="#2eb37c"/><rect x="7" fill="#1fa287" style="width:2.03px"/><rect x="9" fill="#21918c"/><rect x="10" fill="#25848e"/><rect x="11" fill="#1f978b"/><rect x="12" fill="#1fa287"/><rect x="13" fill="#52c569"/><rect x="14" fill="#1fa287"/><rect x="15" fill="#1f978b"/><rect x="16" fill="#25848e"/><rect x="17" fill="#26ad81" style="width:3.03px"/><rect x="20" fill="#2f6b8e"/><rect x="21" fill="#1f978b"/><rect x="22" fill="#29798e"/><rect x="23" fill="#277f8e"/><rect x="24" fill="#228d8d"/><rect x="25" fill="#26ad81"/><rect x="26" fill="#1f978b"/><rect x="27" fill="#26ad81" style="width:2.03px"/><rect x="29" fill="#1f978b"/></g>
<g transform="translate(0 4)"><rect x="0" fill="#1fa287"/><rect x="1" fill="#25848e"/><rect x="2" fill="#26ad81" style="width:2.03px"/><rect x="4" fill="#1f978b"/><rect x="5" fill="#228d8d"/><rect x="6" fill="#1fa287"/><rect x="7" fill="#23a983"/><rect x="8" fill="#1e9c89"/><rect x="9" fill="#29798e" style="width:2.03px"/><rect x="11" fill="#1fa287" style="width:2.03px"/><rect x="13" fill="#26ad81"/><rect x="14" fill="#228d8d"/><rect x="15" fill="#26ad81"/><rect x="16" fill="#1fa287"/><rect x="17" fill="#26ad81" style="width:2.03px"/><rect x="19" fill="#1fa287"/><rect x="20" fill="#26ad81"/><rect x="21" fill="#1f978b" style="width:2.03px"/><rect x="23" fill="#277f8e"/><rect x="24" fill="#228d8d" style="width:2.03px"/><rect x="26" fill="#1f978b"/><rect x="27" fill="#1fa287"/><rect x="28" fill="#1f978b"/><rect x="29" fill="#1fa287"/></g>
<g transform="translate(0 5)"><rect x="0" fill="#1fa287" style="width:2.03px"/><rect x="2" fill="#1f978b"/><rect x="3" fill="#35b779"/><rect x="4" fill="#1f978b"/><rect x="5" fill="#35b779" style="width:2.03px"/><rect x="7" fill="#1fa287"/><rect x="8" fill="#26ad81"/><rect x="9" fill="#228d8d"/><rect x="10" fill="#1f978b" style="width:2.03px"/><rect x="12" fill="#1fa287"/><rect x="13" fill="#1f978b" style="width:2.03px"/><rect x="15" fill="#40bd72"/><rect x="16" fill="#26ad81" style="width:2.03px"/><rect x="18" fill="#35b779"/><rect x="19" fill="#48c16e"/><rect x="20" fill="#35b779"/><rect x="21" fill="#26ad81"/><rect x="22" fill="#25848e" style="width:2.03px"/><rect x="24" fill="#1f978b"/><rect x="25" fill="#2cb17e" style="width:2.03px"/><rect x="27" fill="#1fa287"/><rect x="28" fill="#29798e"/><rect x="29" fill="#228d8d"/></g>
<g transform="translate(0 6)"><rect x="0" fill="#26ad81"/><rect x="1" fill="#1fa287"/><rect x="2" fill="#26ad81" style="width:2.03px"/><rect x="4" fill="#1f978b"/><rect x="5" fill="#35b779" style="width:2.03px"/><rect x="7" fill="#277f8e"/><rect x="8" fill="#26ad81"/><rect x="9" fill="#35b779"/><rect x="10" fill="#26ad81"/><rect x="11" fill="#1fa287" style="width:2.03px"/><rect x="13" fill="#25848e"/><rect x="14" fill="#1fa287"/><rect x="15" fill="#35b779"/><rect x="16" fill="#1fa287"/><rect x="17" fill="#1f978b"/><rect x="18" fill="#40bd72"/><rect x="19" fill="#7cd250"/><rect x="20" fill="#26ad81"/><rect x="21" fill="#25848e"/><rect x="22" fill="#277f8e"/><rect x="23" fill="#228d8d"/><rect x="24" fill="#1f978b"/><rect x="25" fill="#35b779"/><rect x="26" fill="#26ad81"/><rect x="27" fill="#1fa287"/><rect x="28" fill="#1f978b"/><rect x="29" fill="#26ad81"/></g>
<g transform="translate(0 7)"><rect x="0" fill="#35b779"/><rect x="1" fill="#2cb17e"/><rect x="2" fill="#25848e" style="width:2.03px"/><rect x="4" fill="#1fa287"/><rect x="5" fill="#26ad81" style="width:2.03px"/><rect x="7" fill="#1fa287" style="width:2.03px"/><rect x="9" fill="#60ca60" style="width:2.03px"/><rect x="11" fill="#1f978b"/><rect x="12" fill="#1fa287"/><rect x="13" fill="#2d718e"/><rect x="14" fill="#1fa287"/><rect x="15" fill="#2cb17e"/><rect x="16" fill="#52c569"/><rect x="17" fill="#277f8e"/><rect x="18" fill="#35b779"/><rect x="19" fill="#26ad81"/><rect x="20" fill="#1fa287" style="width:3.03px"/><rect x="23" fill="#1f978b"/><rect x="24" fill="#1fa287"/><rect x="25" fill="#26ad81" style="width:2.03px"/><rect x="27" fill="#1fa287"/><rect x="28" fill="#2cb17e"/><rect x="29" fill="#1fa287"/></g>
<g transform="translate(0 8)"><rect x="0" fill="#1fa287" style="width:2.03px"/><rect x="2" fill="#25848e"/><rect x="3" fill="#228d8d"/><rect x="4" fill="#1fa287" style="width:2.03px"/><rect x="6" fill="#25848e"/><rect x="7" fill="#228d8d"/><rect x="8" fill="#26ad81"/><rect x="9" fill="#52c569" style="width:2.03px"/><rect x="11" fill="#40bd72"/><rect x="12" fill="#1fa287"/><rect x="13" fill="#2d718e"/><rect x="14" fill="#26ad81"/><rect x="15" fill="#35b779" style="width:2.03px"/><rect x="17" fill="#2f6b8e"/><rect x="18" fill="#26ad81"/><rect x="19" fill="#40bd72"/><rect x="20" fill="#2cb17e" style="width:2.03px"/><rect x="22" fill="#1fa287"/><rect x="23" fill="#25848e"/><rect x="24" fill="#26ad81"/><rect x="25" fill="#2cb17e"/><rect x="26" fill="#1fa287"/><rect x="27" fill="#2cb17e"/><rect x="28" fill="#26ad81"/><rect x="29" fill="#1fa287"/></g>
<g transform="translate(0 9)"><rect x="0" fill="#26ad81"/><rect x="1" fill="#1fa287"/><rect x="2" fill="#277f8e"/><rect x="3" fill="#25848e"/><rect x="4" fill="#228d8d"/><rect x="5" fill="#1fa287"/><rect x="6" fill="#228d8d"/><rect x="7" fill="#277f8e"/><rect x="8" fill="#2cb17e"/><rect x="9" fill="#60ca60" style="width:2.03px"/><rect x="11" fill="#52c569"/><rect x="12" fill="#26ad81"/><rect x="13" fill="#1f978b"/><rect x="14" fill="#26ad81"/><rect x="15" fill="#2cb17e"/><rect x="16" fill="#228d8d"/><rect x="17" fill="#2f6b8e"/><rect x="18" fill="#1fa287"/><rect x="19" fill="#40bd72"/><rect x="20" fill="#2cb17e"/><rect x="21" fill="#26ad81"/><rect x="22" fill="#1f978b" style="width:2.03px"/><rect x="24" fill="#1fa287"/><rect x="25" fill="#25848e"/><rect x="26" fill="#1fa287" style="width:2.03px"/><rect x="28" fill="#26ad81" style="width:2.03px"/></g>
<g transform="translate(0 10)"><rect x="0" fill="#1f978b"/><rect x="1" fill="#228d8d"/><rect x="2" fill="#26ad81" style="width:3.03px"/><rect x="5" fill="#1fa287" style="width:2.03px"/><rect x="7" fill="#26ad81"/><rect x="8" fill="#35b779"/><rect x="9" fill="#52c569" style="width:2.03px"/><rect x="11" fill="#48c16e"/><rect x="12" fill="#40bd72"/><rect x="13" fill="#2cb17e"/><rect x="14" fill="#52c569" style="width:3.03px"/><rect x="17" fill="#2cb17e"/><rect x="18" fill="#40bd72"/><rect x="19" fill="#48c16e"/><rect x="20" fill="#26ad81" style="width:3.03px"/><rect x="23" fill="#1fa287"/><rect x="24" fill="#1f978b"/><rect x="25" fill="#1fa287"/><rect x="26" fill="#25848e"/><rect x="27" fill="#1fa287" style="width:3.03px"/></g>
<g transform="translate(0 11)"><rect x="0" fill="#26ad81" style="width:2.03px"/><rect x="2" fill="#228d8d"/><rect x="3" fill="#1f978b"/><rect x="4" fill="#1fa287"/><rect x="5" fill="#25848e"/><rect x="6" fill="#1fa287" style="width:3.03px"/><rect x="9" fill="#2cb17e" style="width:2.03px"/><rect x="11" fill="#52c569"/><rect x="12" fill="#48c16e"/><rect x="13" fill="#60ca60"/><rect x="14" fill="#89d548"/><rect x="15" fill="#7cd250"/><rect x="16" fill="#60ca60"/><rect x="17" fill="#2cb17e"/><rect x="18" fill="#40bd72" style="width:2.03px"/><rect x="20" fill="#26ad81"/><rect x="21" fill="#1f978b"/><rect x="22" fill="#228d8d"/><rect x="23" fill="#25848e"/><rect x="24" fill="#1f978b" style="width:3.03px"/><rect x="27" fill="#26ad81" style="width:2.03px"/><rect x="29" fill="#1fa287"/></g>
<g transform="translate(0 12)"><rect x="0" fill="#228d8d"/><rect x="1" fill="#26ad81"/><rect x="2" fill="#228d8d"/><rect x="3" fill="#1fa287"/><rect x="4" fill="#1f978b"/><rect x="5" fill="#228d8d"/><rect x="6" fill="#2cb17e"/><rect x="7" fill="#35b779"/><rect x="8" fill="#1fa287"/><rect x="9" fill="#26ad81"/><rect x="10" fill="#40bd72"/><rect x="11" fill="#60ca60"/><rect x="12" fill="#7cd250"/><rect x="13" fill="#89d548"/><rect x="14" fill="#9dd93b" style="width:2.03px"/><rect x="16" fill="#89d548"/><rect x="17" fill="#7cd250"/><rect x="18" fill="#70cf57"/><rect x="19" fill="#35b779" style="width:2.03px"/><rect x="21" fill="#2cb17e"/><rect x="22" fill="#1f978b"/><rect x="23" fill="#277f8e"/><rect x="24" fill="#25848e"/><rect x="25" fill="#1f978b"/><rect x="26" fill="#35b779"/><rect x="27" fill="#26ad81"/><rect x="28" fill="#1fa287" style="width:2.03px"/></g>
<g transform="translate(0 13)"><rect x="0" fill="#26ad81" style="width:2.03px"/><rect x="2" fill="#277f8e" style="width:3.03px"/><rect x="5" fill="#1fa287"/><rect x="6" fill="#40bd72" style="width:2.03px"/><rect x="8" fill="#35b779"/><rect x="9" fill="#2cb17e"/><rect x="10" fill="#52c569"/><rect x="11" fill="#9dd93b"/><rect x="12" fill="#70cf57"/><rect x="13" fill="#89d548"/><rect x="14" fill="#dfe318" style="width:2.03px"/><rect x="16" fill="#9dd93b"/><rect x="17" fill="#89d548"/><rect x="18" fill="#33628d"/><rect x="19" fill="#26ad81"/><rect x="20" fill="#48c16e" style="width:2.03px"/><rect x="22" fill="#26ad81"/><rect x="23" fill="#1f978b"/><rect x="24" fill="#277f8e" style="width:2.03px"/><rect x="26" fill="#25848e"/><rect x="27" fill="#1f978b"/><rect x="28" fill="#228d8d"/><rect x="29" fill="#1f978b"/></g>
<g transform="translate(0 14)"><rect x="0" fill="#26ad81"/><rect x="1" fill="#228d8d"/><rect x="2" fill="#1f978b"/><rect x="3" fill="#26ad81" style="width:2.03px"/><rect x="5" fill="#35b779" style="width:2.03px"/><rect x="7" fill="#40bd72"/><rect x="8" fill="#35b779" style="width:2.03px"/><rect x="10" fill="#60ca60"/><rect x="11" fill="#9dd93b"/><rect x="12" fill="#365c8d"/><rect x="13" fill="#f1e51d" style="width:2.03px"/><rect x="15" fill="#ece51b"/><rect x="16" fill="#b0dd2f"/><rect x="17" fill="#9dd93b"/><rect x="18" fill="#89d548"/><rect x="19" fill="#40bd72"/><rect x="20" fill="#48c16e"/><rect x="21" fill="#35b779"/><rect x="22" fill="#1f978b"/><rect x="23" fill="#25848e"/><rect x="24" fill="#1f978b"/><rect x="25" fill="#2cb17e"/><rect x="26" fill="#228d8d"/><rect x="27" fill="#25848e"/><rect x="28" fill="#228d8d"/><rect x="29" fill="#1f978b"/></g>
<g transform="translate(0 15)"><rect x="0" fill="#26ad81" style="width:4.03px"/><rect x="4" fill="#2cb17e"/><rect x="5" fill="#35b779" style="width:3.03px"/><rect x="8" fill="#25848e"/><rect x="9" fill="#52c569"/><rect x="10" fill="#60ca60"/><rect x="11" fill="#9dd93b"/><rect x="12" fill="#33628d" style="width:2.03px"/><rect x="14" fill="#46085c" style="width:2.03px"/><rect x="16" fill="#414487"/><rect x="17" fill="#70cf57"/><rect x="18" fill="#33628d"/><rect x="19" fill="#35b779"/><rect x="20" fill="#277f8e"/><rect x="21" fill="#2d718e" style="width:2.03px"/><rect x="23" fill="#29798e"/><rect x="24" fill="#1f978b" style="width:2.03px"/><rect x="26" fill="#1fa287"/><rect x="27" fill="#228d8d"/><rect x="28" fill="#277f8e"/><rect x="29" fill="#25848e"/></g>
<g transform="translate(0 16)"><rect x="0" fill="#26ad81"/><rect x="1" fill="#1f978b" style="width:2.03px"/><rect x="3" fill="#228d8d"/><rect x="4" fill="#26ad81"/><rect x="5" fill="#2cb17e"/><rect x="6" fill="#35b779"/><rect x="7" fill="#26ad81"/><rect x="8" fill="#228d8d"/><rect x="9" fill="#52c569" style="width:2.03px"/><rect x="11" fill="#9dd93b"/><rect x="12" fill="#70cf57"/><rect x="13" fill="#dfe318"/><rect x="14" fill="#bddf26"/><rect x="15" fill="#fde725"/><rect x="16" fill="#1f978b"/><rect x="17" fill="#33628d"/><rect x="18" fill="#414487"/><rect x="19" fill="#26ad81"/><rect x="20" fill="#2cb17e"/><rect x="21" fill="#1fa287"/><rect x="22" fill="#26ad81"/><rect x="23" fill="#228d8d"/><rect x="24" fill="#277f8e" style="width:2.03px"/><rect x="26" fill="#29798e"/><rect x="27" fill="#1f978b" style="width:3.03px"/></g>
<g transform="translate(0 17)"><rect x="0" fill="#26ad81"/><rect x="1" fill="#1f978b"/><rect x="2" fill="#277f8e"/><rect x="3" fill="#228d8d"/><rect x="4" fill="#1fa287"/><rect x="5" fill="#26ad81" style="width:2.03px"/><rect x="7" fill="#35b779"/><rect x="8" fill="#2f6b8e"/><rect x="9" fill="#2cb17e"/><rect x="10" fill="#40bd72"/><rect x="11" fill="#70cf57"/><rect x="12" fill="#33628d"/><rect x="13" fill="#89d548"/><rect x="14" fill="#cae11f"/><rect x="15" fill="#b0dd2f"/><rect x="16" fill="#89d548"/><rect x="17" fill="#33628d" style="width:2.03px"/><rect x="19" fill="#1f978b"/><rect x="20" fill="#40bd72" style="width:2.03px"/><rect x="22" fill="#52c569"/><rect x="23" fill="#35b779"/><rect x="24" fill="#26ad81" style="width:4.03px"/><rect x="28" fill="#1f978b"/><rect x="29" fill="#1fa287"/></g>
<g transform="translate(0 18)"><rect x="0" fill="#1f978b"/><rect x="1" fill="#1fa287"/><rect x="2" fill="#1f978b"/><rect x="3" fill="#35b779"/><rect x="4" fill="#25848e"/><rect x="5" fill="#1f978b"/><rect x="6" fill="#2cb17e"/><rect x="7" fill="#1fa287" style="width:2.03px"/><rect x="9" fill="#2cb17e"/><rect x="10" fill="#35b779"/><rect x="11" fill="#48c16e"/><rect x="12" fill="#40bd72" style="width:2.03px"/><rect x="14" fill="#70cf57" style="width:2.03px"/><rect x="16" fill="#33628d" style="width:2.03px"/><rect x="18" fill="#35b779"/><rect x="19" fill="#40bd72" style="width:2.03px"/><rect x="21" fill="#35b779" style="width:3.03px"/><rect x="24" fill="#26ad81" style="width:4.03px"/><rect x="28" fill="#1fa287"/><rect x="29" fill="#26ad81"/></g>
<g transform="translate(0 19)"><rect x="0" fill="#26ad81" style="width:2.03px"/><rect x="2" fill="#1fa287"/><rect x="3" fill="#2d718e"/><rect x="4" fill="#1fa287"/><rect x="5" fill="#26ad81" style="width:4.03px"/><rect x="9" fill="#35b779" style="width:4.03px"/><rect x="13" fill="#26ad81"/><rect x="14" fill="#2d718e"/><rect x="15" fill="#33628d"/><rect x="16" fill="#1f978b"/><rect x="17" fill="#228d8d"/><rect x="18" fill="#2cb17e"/><rect x="19" fill="#40bd72"/><rect x="20" fill="#26ad81"/><rect x="21" fill="#35b779"/><rect x="22" fill="#26ad81" style="width:2.03px"/><rect x="24" fill="#228d8d"/><rect x="25" fill="#2d718e"/><rect x="26" fill="#1f978b"/><rect x="27" fill="#26ad81"/><rect x="28" fill="#228d8d"/><rect x="29" fill="#1fa287"/></g>
<g transform="translate(0 20)"><rect x="0" fill="#26ad81" style="width:2.03px"/><rect x="2" fill="#25848e"/><rect x="3" fill="#1fa287"/><rect x="4" fill="#26ad81" style="width:2.03px"/><rect x="6" fill="#2cb17e"/><rect x="7" fill="#35b779" style="width:2.03px"/><rect x="9" fill="#1f978b"/><rect x="10" fill="#35b779"/><rect x="11" fill="#40bd72"/><rect x="12" fill="#35b779" style="width:3.03px"/><rect x="15" fill="#26ad81"/><rect x="16" fill="#228d8d"/><rect x="17" fill="#1fa287"/><rect x="18" fill="#2d718e"/><rect x="19" fill="#1fa287"/><rect x="20" fill="#25848e" style="width:2.03px"/><rect x="22" fill="#1fa287" style="width:2.03px"/><rect x="24" fill="#35b779"/><rect x="25" fill="#26ad81"/><rect x="26" fill="#1fa287" style="width:4.03px"/></g>
<g transform="translate(0 21)"><rect x="0" fill="#1fa287" style="width:2.03px"/><rect x="2" fill="#25848e"/><rect x="3" fill="#1fa287" style="width:2.03px"/><rect x="5" fill="#25848e"/><rect x="6" fill="#1fa287"/><rect x="7" fill="#2cb17e"/><rect x="8" fill="#35b779" style="width:2.03px"/><rect x="10" fill="#40bd72"/><rect x="11" fill="#60ca60"/><rect x="12" fill="#52c569"/><rect x="13" fill="#35b779" style="width:3.03px"/><rect x="16" fill="#52c569"/><rect x="17" fill="#25848e"/><rect x="18" fill="#52c569"/><rect x="19" fill="#1fa287"/><rect x="20" fill="#277f8e" style="width:2.03px"/><rect x="22" fill="#1f978b"/><rect x="23" fill="#228d8d" style="width:3.03px"/><rect x="26" fill="#1fa287"/><rect x="27" fill="#1f978b" style="width:2.03px"/><rect x="29" fill="#26ad81"/></g>
<g transform="translate(0 22)"><rect x="0" fill="#1fa287" style="width:2.03px"/><rect x="2" fill="#25848e"/><rect x="3" fill="#1f978b"/><rect x="4" fill="#228d8d"/><rect x="5" fill="#1fa287"/><rect x="6" fill="#25848e" style="width:2.03px"/><rect x="8" fill="#40bd72" style="width:2.03px"/><rect x="10" fill="#35b779"/><rect x="11" fill="#414487"/><rect x="12" fill="#3b528b"/><rect x="13" fill="#33628d"/><rect x="14" fill="#26ad81"/><rect x="15" fill="#35b779"/><rect x="16" fill="#60ca60"/><rect x="17" fill="#29798e"/><rect x="18" fill="#26ad81"/><rect x="19" fill="#1fa287"/><rect x="20" fill="#277f8e"/><rect x="21" fill="#1fa287" style="width:2.03px"/><rect x="23" fill="#1f978b"/><rect x="24" fill="#228d8d"/><rect x="25" fill="#1fa287" style="width:2.03px"/><rect x="27" fill="#2cb17e"/><rect x="28" fill="#1fa287"/><rect x="29" fill="#1f978b"/></g>
<g transform="translate(0 23)"><rect x="0" fill="#40bd72"/><rect x="1" fill="#277f8e"/><rect x="2" fill="#25848e"/><rect x="3" fill="#277f8e"/><rect x="4" fill="#1f978b"/><rect x="5" fill="#2cb17e"/><rect x="6" fill="#26ad81"/><rect x="7" fill="#25848e"/><rect x="8" fill="#40bd72"/><rect x="9" fill="#52c569"/><rect x="10" fill="#35b779"/><rect x="11" fill="#60ca60"/><rect x="12" fill="#1f978b"/><rect x="13" fill="#2cb17e"/><rect x="14" fill="#26ad81" style="width:2.03px"/><rect x="16" fill="#40bd72"/><rect x="17" fill="#26ad81"/><rect x="18" fill="#35b779"/><rect x="19" fill="#26ad81"/><rect x="20" fill="#1f978b"/><rect x="21" fill="#228d8d"/><rect x="22" fill="#1fa287"/><rect x="23" fill="#2f6b8e"/><rect x="24" fill="#26ad81"/><rect x="25" fill="#2cb17e"/><rect x="26" fill="#1fa287"/><rect x="27" fill="#25848e"/><rect x="28" fill="#1fa287"/><rect x="29" fill="#26ad81"/></g>
<g transform="translate(0 24)"><rect x="0" fill="#25848e"/><rect x="1" fill="#1fa287"/><rect x="2" fill="#1f978b"/><rect x="3" fill="#35b779"/><rect x="4" fill="#29798e"/><rect x="5" fill="#1f978b" style="width:3.03px"/><rect x="8" fill="#26ad81" style="width:4.03px"/><rect x="12" fill="#1fa287" style="width:2.03px"/><rect x="14" fill="#1f978b" style="width:2.03px"/><rect x="16" fill="#26ad81"/><rect x="17" fill="#1f978b"/><rect x="18" fill="#1fa287"/><rect x="19" fill="#2f6b8e"/><rect x="20" fill="#1fa287" style="width:4.03px"/><rect x="24" fill="#26ad81" style="width:2.03px"/><rect x="26" fill="#2cb17e"/><rect x="27" fill="#1fa287"/><rect x="28" fill="#228d8d"/><rect x="29" fill="#26ad81"/></g>
<g transform="translate(0 25)"><rect x="0" fill="#1f978b"/><rect x="1" fill="#1fa287"/><rect x="2" fill="#1f978b"/><rect x="3" fill="#25848e"/><rect x="4" fill="#1fa287" style="width:5.03px"/><rect x="9" fill="#1f978b" style="width:3.03px"/><rect x="12" fill="#228d8d" style="width:3.03px"/><rect x="15" fill="#1f978b" style="width:3.03px"/><rect x="18" fill="#1fa287" style="width:2.03px"/><rect x="20" fill="#40bd72"/><rect x="21" fill="#1f978b"/><rect x="22" fill="#25848e" style="width:2.03px"/><rect x="24" fill="#1f978b"/><rect x="25" fill="#26ad81"/><rect x="26" fill="#2cb17e"/><rect x="27" fill="#26ad81" style="width:2.03px"/><rect x="29" fill="#1f978b"/></g>
<g transform="translate(0 26)"><rect x="0" fill="#26ad81"/><rect x="1" fill="#1fa287"/><rect x="2" fill="#1f978b" style="width:2.03px"/><rect x="4" fill="#1fa287"/><rect x="5" fill="#277f8e"/><rect x="6" fill="#1fa287"/><rect x="7" fill="#25848e"/><rect x="8" fill="#2cb17e" style="width:2.03px"/><rect x="10" fill="#1fa287"/><rect x="11" fill="#26ad81"/><rect x="12" fill="#25848e"/><rect x="13" fill="#1fa287"/><rect x="14" fill="#1f978b" style="width:2.03px"/><rect x="16" fill="#2cb17e"/><rect x="17" fill="#26ad81"/><rect x="18" fill="#1f978b"/><rect x="19" fill="#26ad81"/><rect x="20" fill="#228d8d"/><rect x="21" fill="#25848e"/><rect x="22" fill="#277f8e" style="width:2.03px"/><rect x="24" fill="#228d8d"/><rect x="25" fill="#23a983"/><rect x="26" fill="#26ad81"/><rect x="27" fill="#23a983"/><rect x="28" fill="#1fa287"/><rect x="29" fill="#1f978b"/></g>
<g transform="translate(0 27)"><rect x="0" fill="#26ad81"/><rect x="1" fill="#1fa287" style="width:2.03px"/><rect x="3" fill="#25848e"/><rect x="4" fill="#1fa287"/><rect x="5" fill="#1f978b"/><rect x="6" fill="#277f8e"/><rect x="7" fill="#26ad81"/><rect x="8" fill="#2cb17e" style="width:2.03px"/><rect x="10" fill="#26ad81"/><rect x="11" fill="#228d8d" style="width:2.03px"/><rect x="13" fill="#26ad81"/><rect x="14" fill="#1fa287"/><rect x="15" fill="#1f978b"/><rect x="16" fill="#23a983"/><rect x="17" fill="#29798e"/><rect x="18" fill="#1fa287"/><rect x="19" fill="#23a983" style="width:2.03px"/><rect x="21" fill="#1fa287" style="width:2.03px"/><rect x="23" fill="#228d8d"/><rect x="24" fill="#1f978b"/><rect x="25" fill="#1fa287" style="width:2.03px"/><rect x="27" fill="#25848e"/><rect x="28" fill="#1fa287"/><rect x="29" fill="#228d8d"/></g>
<g transform="translate(0 28)"><rect x="0" fill="#26ad81"/><rect x="1" fill="#29798e"/><rect x="2" fill="#1f978b"/><rect x="3" fill="#26ad81" style="width:3.03px"/><rect x="6" fill="#1fa287" style="width:2.03px"/><rect x="8" fill="#29798e"/><rect x="9" fill="#228d8d" style="width:2.03px"/><rect x="11" fill="#35b779"/><rect x="12" fill="#1f978b" style="width:2.03px"/><rect x="14" fill="#228d8d" style="width:2.03px"/><rect x="16" fill="#1f978b" style="width:2.03px"/><rect x="18" fill="#1fa287"/><rect x="19" fill="#26ad81" style="width:2.03px"/><rect x="21" fill="#2cb17e" style="width:2.03px"/><rect x="23" fill="#1f978b"/><rect x="24" fill="#277f8e"/><rect x="25" fill="#25848e"/><rect x="26" fill="#1fa287" style="width:2.03px"/><rect x="28" fill="#228d8d"/><rect x="29" fill="#1f978b"/></g>
<g transform="translate(0 29)"><rect x="0" fill="#26ad81"/><rect x="1" fill="#1f978b" style="width:2.03px"/><rect x="3" fill="#26ad81"/><rect x="4" fill="#35b779"/><rect x="5" fill="#40bd72"/><rect x="6" fill="#1fa287"/><rect x="7" fill="#26ad81"/><rect x="8" fill="#1f978b"/><rect x="9" fill="#463480"/><rect x="10" fill="#228d8d"/><rect x="11" fill="#26ad81"/><rect x="12" fill="#277f8e"/><rect x="13" fill="#1fa287"/><rect x="14" fill="#1f978b"/><rect x="15" fill="#228d8d"/><rect x="16" fill="#1fa287"/><rect x="17" fill="#1f978b"/><rect x="18" fill="#23a983"/><rect x="19" fill="#228d8d"/><rect x="20" fill="#1fa287"/><rect x="21" fill="#26ad81" style="width:2.03px"/><rect x="23" fill="#228d8d"/><rect x="24" fill="#1fa287" style="width:2.03px"/><rect x="26" fill="#1f978b" style="width:4.03px"/></g>
</g></g>
<rect x="290.00" y="201.50" width="162.00" height="162.00" fill="none" stroke="#000" stroke-width="0.9"/>
<line x1="292.70" y1="363.50" x2="292.70" y2="367.10" stroke="#000" stroke-width="0.9"/><text x="292.70" y="379.10" font-size="10.9" text-anchor="middle">0</text><line x1="346.70" y1="363.50" x2="346.70" y2="367.10" stroke="#000" stroke-width="0.9"/><text x="346.70" y="379.10" font-size="10.9" text-anchor="middle">10</text><line x1="400.70" y1="363.50" x2="400.70" y2="367.10" stroke="#000" stroke-width="0.9"/><text x="400.70" y="379.10" font-size="10.9" text-anchor="middle">20</text><line x1="286.40" y1="204.20" x2="290.00" y2="204.20" stroke="#000" stroke-width="0.9"/><text x="282.40" y="208.40" font-size="10.9" text-anchor="end">0</text><line x1="286.40" y1="231.20" x2="290.00" y2="231.20" stroke="#000" stroke-width="0.9"/><text x="282.40" y="235.40" font-size="10.9" text-anchor="end">5</text><line x1="286.40" y1="258.20" x2="290.00" y2="258.20" stroke="#000" stroke-width="0.9"/><text x="282.40" y="262.40" font-size="10.9" text-anchor="end">10</text><line x1="286.40" y1="285.20" x2="290.00" y2="285.20" stroke="#000" stroke-width="0.9"/><text x="282.40" y="289.40" font-size="10.9" text-anchor="end">15</text><line x1="286.40" y1="312.20" x2="290.00" y2="312.20" stroke="#000" stroke-width="0.9"/><text x="282.40" y="316.40" font-size="10.9" text-anchor="end">20</text><line x1="286.40" y1="339.20" x2="290.00" y2="339.20" stroke="#000" stroke-width="0.9"/><text x="282.40" y="343.40" font-size="10.9" text-anchor="end">25</text>
<rect x="461.60" y="194.50" width="9" height="176.00" fill="url(#vg)"/><rect x="461.60" y="194.50" width="9.00" height="176.00" fill="none" stroke="#000" stroke-width="0.9"/><line x1="470.60" y1="210.32" x2="474.20" y2="210.32" stroke="#000" stroke-width="0.9"/><text x="477.60" y="214.52" font-size="10.9">3</text><line x1="470.60" y1="232.93" x2="474.20" y2="232.93" stroke="#000" stroke-width="0.9"/><text x="477.60" y="237.13" font-size="10.9">2</text><line x1="470.60" y1="255.53" x2="474.20" y2="255.53" stroke="#000" stroke-width="0.9"/><text x="477.60" y="259.73" font-size="10.9">1</text><line x1="470.60" y1="278.14" x2="474.20" y2="278.14" stroke="#000" stroke-width="0.9"/><text x="477.60" y="282.34" font-size="10.9">0</text><line x1="470.60" y1="300.74" x2="474.20" y2="300.74" stroke="#000" stroke-width="0.9"/><text x="477.60" y="304.94" font-size="10.9">−1</text><line x1="470.60" y1="323.35" x2="474.20" y2="323.35" stroke="#000" stroke-width="0.9"/><text x="477.60" y="327.55" font-size="10.9">−2</text><line x1="470.60" y1="345.95" x2="474.20" y2="345.95" stroke="#000" stroke-width="0.9"/><text x="477.60" y="350.15" font-size="10.9">−3</text><line x1="470.60" y1="368.56" x2="474.20" y2="368.56" stroke="#000" stroke-width="0.9"/><text x="477.60" y="372.76" font-size="10.9">−4</text>
<g shape-rendering="crispEdges"><g class="gr" transform="translate(552.50 201.50) scale(5.4000)"><g transform="translate(0 0)"><rect x="0" fill="#1f978b" style="width:3.03px"/><rect x="3" fill="#2cb17e" style="width:2.03px"/><rect x="5" fill="#26ad81"/><rect x="6" fill="#1f978b" style="width:4.03px"/><rect x="10" fill="#2cb17e"/><rect x="11" fill="#1f978b"/><rect x="12" fill="#2d718e"/><rect x="13" fill="#1f978b"/><rect x="14" fill="#26ad81"/><rect x="15" fill="#228d8d"/><rect x="16" fill="#1fa287"/><rect x="17" fill="#1f978b" style="width:4.03px"/><rect x="21" fill="#23a983"/><rect x="22" fill="#1f978b"/><rect x="23" fill="#26ad81"/><rect x="24" fill="#1fa287"/><rect x="25" fill="#228d8d"/><rect x="26" fill="#1fa287" style="width:2.03px"/><rect x="28" fill="#1f978b" style="width:2.03px"/></g>
<g transform="translate(0 1)"><rect x="0" fill="#26ad81" style="width:2.03px"/><rect x="2" fill="#25848e"/><rect x="3" fill="#228d8d"/><rect x="4" fill="#25848e"/><rect x="5" fill="#26ad81" style="width:2.03px"/><rect x="7" fill="#277f8e"/><rect x="8" fill="#1fa287"/><rect x="9" fill="#25848e"/><rect x="10" fill="#228d8d" style="width:2.03px"/><rect x="12" fill="#1f978b"/><rect x="13" fill="#1fa287"/><rect x="14" fill="#228d8d"/><rect x="15" fill="#1f978b"/><rect x="16" fill="#26ad81" style="width:2.03px"/><rect x="18" fill="#1f978b"/><rect x="19" fill="#2cb17e" style="width:2.03px"/><rect x="21" fill="#25848e"/><rect x="22" fill="#1fa287"/><rect x="23" fill="#277f8e"/><rect x="24" fill="#1f978b"/><rect x="25" fill="#26ad81"/><rect x="26" fill="#25848e"/><rect x="27" fill="#228d8d"/><rect x="28" fill="#1fa287"/><rect x="29" fill="#228d8d"/></g>
<g transform="translate(0 2)"><rect x="0" fill="#1fa287" style="width:2.03px"/><rect x="2" fill="#1f978b" style="width:2.03px"/><rect x="4" fill="#228d8d"/><rect x="5" fill="#1f978b" style="width:2.03px"/><rect x="7" fill="#29798e"/><rect x="8" fill="#228d8d"/><rect x="9" fill="#26ad81"/><rect x="10" fill="#2cb17e" style="width:2.03px"/><rect x="12" fill="#1fa287"/><rect x="13" fill="#25848e"/><rect x="14" fill="#1f978b" style="width:2.03px"/><rect x="16" fill="#29798e"/><rect x="17" fill="#2cb17e" style="width:3.03px"/><rect x="20" fill="#277f8e" style="width:2.03px"/><rect x="22" fill="#1fa287"/><rect x="23" fill="#277f8e"/><rect x="24" fill="#228d8d"/><rect x="25" fill="#26ad81"/><rect x="26" fill="#1f978b"/><rect x="27" fill="#52c569"/><rect x="28" fill="#23a983"/><rect x="29" fill="#1f978b"/></g>
<g transform="translate(0 3)"><rect x="0" fill="#26ad81"/><rect x="1" fill="#25848e"/><rect x="2" fill="#26ad81"/><rect x="3" fill="#1fa287"/><rect x="4" fill="#2cb17e"/><rect x="5" fill="#40bd72"/><rect x="6" fill="#35b779"/><rect x="7" fill="#1f978b"/><rect x="8" fill="#35b779"/><rect x="9" fill="#277f8e" style="width:2.03px"/><rect x="11" fill="#1fa287" style="width:2.03px"/><rect x="13" fill="#1f978b"/><rect x="14" fill="#26ad81"/><rect x="15" fill="#228d8d"/><rect x="16" fill="#25848e"/><rect x="17" fill="#2cb17e" style="width:3.03px"/><rect x="20" fill="#29798e"/><rect x="21" fill="#1f978b"/><rect x="22" fill="#2d718e"/><rect x="23" fill="#277f8e"/><rect x="24" fill="#25848e"/><rect x="25" fill="#26ad81"/><rect x="26" fill="#228d8d"/><rect x="27" fill="#26ad81" style="width:2.03px"/><rect x="29" fill="#1f978b"/></g>
<g transform="translate(0 4)"><rect x="0" fill="#26ad81"/><rect x="1" fill="#25848e"/><rect x="2" fill="#26ad81"/><rect x="3" fill="#2cb17e"/><rect x="4" fill="#40bd72"/><rect x="5" fill="#1fa287"/><rect x="6" fill="#25848e"/><rect x="7" fill="#1f978b"/><rect x="8" fill="#25848e"/><rect x="9" fill="#2d718e"/><rect x="10" fill="#29798e"/><rect x="11" fill="#2cb17e" style="width:2.03px"/><rect x="13" fill="#26ad81"/><rect x="14" fill="#1f978b"/><rect x="15" fill="#1fa287" style="width:2.03px"/><rect x="17" fill="#2cb17e" style="width:2.03px"/><rect x="19" fill="#1fa287"/><rect x="20" fill="#23a983"/><rect x="21" fill="#1f978b"/><rect x="22" fill="#1fa287"/><rect x="23" fill="#277f8e"/><rect x="24" fill="#1f978b" style="width:3.03px"/><rect x="27" fill="#1fa287"/><rect x="28" fill="#1f978b" style="width:2.03px"/></g>
<g transform="translate(0 5)"><rect x="0" fill="#2cb17e"/><rect x="1" fill="#1fa287"/><rect x="2" fill="#1f978b"/><rect x="3" fill="#40bd72"/><rect x="4" fill="#1fa287"/><rect x="5" fill="#40bd72" style="width:2.03px"/><rect x="7" fill="#1fa287"/><rect x="8" fill="#26ad81"/><rect x="9" fill="#25848e"/><rect x="10" fill="#26ad81" style="width:2.03px"/><rect x="12" fill="#2cb17e"/><rect x="13" fill="#35b779"/><rect x="14" fill="#1f978b"/><rect x="15" fill="#48c16e"/><rect x="16" fill="#26ad81"/><rect x="17" fill="#2cb17e"/><rect x="18" fill="#48c16e"/><rect x="19" fill="#52c569"/><rect x="20" fill="#40bd72"/><rect x="21" fill="#26ad81"/><rect x="22" fill="#25848e"/><rect x="23" fill="#228d8d"/><rect x="24" fill="#1f978b"/><rect x="25" fill="#35b779" style="width:2.03px"/><rect x="27" fill="#23a983"/><rect x="28" fill="#277f8e"/><rect x="29" fill="#228d8d"/></g>
<g transform="translate(0 6)"><rect x="0" fill="#2cb17e"/><rect x="1" fill="#1fa287"/><rect x="2" fill="#26ad81" style="width:2.03px"/><rect x="4" fill="#1fa287"/><rect x="5" fill="#40bd72"/><rect x="6" fill="#2cb17e"/><rect x="7" fill="#277f8e"/><rect x="8" fill="#40bd72" style="width:3.03px"/><rect x="11" fill="#26ad81"/><rect x="12" fill="#25848e"/><rect x="13" fill="#277f8e"/><rect x="14" fill="#29798e"/><rect x="15" fill="#2d718e"/><rect x="16" fill="#26ad81"/><rect x="17" fill="#277f8e"/><rect x="18" fill="#60ca60"/><rect x="19" fill="#9dd93b"/><rect x="20" fill="#35b779"/><rect x="21" fill="#1f978b"/><rect x="22" fill="#25848e"/><rect x="23" fill="#1f978b"/><rect x="24" fill="#1fa287"/><rect x="25" fill="#40bd72"/><rect x="26" fill="#2cb17e"/><rect x="27" fill="#1fa287"/><rect x="28" fill="#228d8d"/><rect x="29" fill="#35b779"/></g>
<g transform="translate(0 7)"><rect x="0" fill="#40bd72"/><rect x="1" fill="#2cb17e"/><rect x="2" fill="#29798e"/><rect x="3" fill="#277f8e"/><rect x="4" fill="#1fa287"/><rect x="5" fill="#26ad81" style="width:3.03px"/><rect x="8" fill="#35b779"/><rect x="9" fill="#70cf57" style="width:2.03px"/><rect x="11" fill="#2f6b8e"/><rect x="12" fill="#33628d" style="width:2.03px"/><rect x="14" fill="#25848e" style="width:2.03px"/><rect x="16" fill="#1f978b"/><rect x="17" fill="#365c8d"/><rect x="18" fill="#228d8d"/><rect x="19" fill="#33628d"/><rect x="20" fill="#26ad81" style="width:3.03px"/><rect x="23" fill="#1fa287"/><rect x="24" fill="#23a983"/><rect x="25" fill="#35b779"/><rect x="26" fill="#2cb17e"/><rect x="27" fill="#1fa287"/><rect x="28" fill="#35b779"/><rect x="29" fill="#2cb17e"/></g>
<g transform="translate(0 8)"><rect x="0" fill="#2cb17e"/><rect x="1" fill="#277f8e"/><rect x="2" fill="#1f978b" style="width:2.03px"/><rect x="4" fill="#2cb17e"/><rect x="5" fill="#1fa287"/><rect x="6" fill="#277f8e"/><rect x="7" fill="#228d8d"/><rect x="8" fill="#1fa287"/><rect x="9" fill="#2d718e" style="width:2.03px"/><rect x="11" fill="#277f8e"/><rect x="12" fill="#33628d" style="width:2.03px"/><rect x="14" fill="#1fa287"/><rect x="15" fill="#60ca60"/><rect x="16" fill="#2d718e"/><rect x="17" fill="#3b528b"/><rect x="18" fill="#365c8d"/><rect x="19" fill="#2d718e"/><rect x="20" fill="#25848e"/><rect x="21" fill="#35b779"/><rect x="22" fill="#40bd72"/><rect x="23" fill="#1f978b"/><rect x="24" fill="#2cb17e"/><rect x="25" fill="#35b779"/><rect x="26" fill="#26ad81"/><rect x="27" fill="#35b779" style="width:2.03px"/><rect x="29" fill="#26ad81"/></g>
<g transform="translate(0 9)"><rect x="0" fill="#35b779"/><rect x="1" fill="#26ad81"/><rect x="2" fill="#2cb17e"/><rect x="3" fill="#40bd72"/><rect x="4" fill="#277f8e"/><rect x="5" fill="#1fa287" style="width:2.03px"/><rect x="7" fill="#33628d"/><rect x="8" fill="#365c8d"/><rect x="9" fill="#29798e"/><rect x="10" fill="#60ca60"/><rect x="11" fill="#7cd250"/><rect x="12" fill="#70cf57"/><rect x="13" fill="#60ca60"/><rect x="14" fill="#70cf57" style="width:2.03px"/><rect x="16" fill="#52c569"/><rect x="17" fill="#33628d"/><rect x="18" fill="#2d718e"/><rect x="19" fill="#228d8d"/><rect x="20" fill="#2d718e"/><rect x="21" fill="#277f8e"/><rect x="22" fill="#26ad81"/><rect x="23" fill="#1fa287"/><rect x="24" fill="#228d8d"/><rect x="25" fill="#25848e"/><rect x="26" fill="#228d8d"/><rect x="27" fill="#26ad81"/><rect x="28" fill="#35b779"/><rect x="29" fill="#2cb17e"/></g>
<g transform="translate(0 10)"><rect x="0" fill="#1f978b"/><rect x="1" fill="#228d8d"/><rect x="2" fill="#2cb17e"/><rect x="3" fill="#1f978b"/><rect x="4" fill="#2cb17e"/><rect x="5" fill="#26ad81"/><rect x="6" fill="#1fa287"/><rect x="7" fill="#29798e" style="width:2.03px"/><rect x="9" fill="#2d718e"/><rect x="10" fill="#40bd72"/><rect x="11" fill="#60ca60"/><rect x="12" fill="#52c569"/><rect x="13" fill="#48c16e"/><rect x="14" fill="#70cf57" style="width:3.03px"/><rect x="17" fill="#48c16e" style="width:3.03px"/><rect x="20" fill="#25848e"/><rect x="21" fill="#1f978b"/><rect x="22" fill="#277f8e"/><rect x="23" fill="#1fa287"/><rect x="24" fill="#228d8d"/><rect x="25" fill="#1fa287"/><rect x="26" fill="#277f8e"/><rect x="27" fill="#1fa287"/><rect x="28" fill="#1f978b"/><rect x="29" fill="#26ad81"/></g>
<g transform="translate(0 11)"><rect x="0" fill="#2cb17e" style="width:2.03px"/><rect x="2" fill="#228d8d"/><rect x="3" fill="#1f978b"/><rect x="4" fill="#1fa287"/><rect x="5" fill="#25848e"/><rect x="6" fill="#1f978b"/><rect x="7" fill="#277f8e" style="width:2.03px"/><rect x="9" fill="#35b779"/><rect x="10" fill="#52c569"/><rect x="11" fill="#40bd72"/><rect x="12" fill="#3b528b"/><rect x="13" fill="#40bd72"/><rect x="14" fill="#2d718e"/><rect x="15" fill="#2cb17e"/><rect x="16" fill="#40bd72"/><rect x="17" fill="#365c8d"/><rect x="18" fill="#70cf57"/><rect x="19" fill="#60ca60"/><rect x="20" fill="#23a983"/><rect x="21" fill="#228d8d"/><rect x="22" fill="#277f8e" style="width:2.03px"/><rect x="24" fill="#228d8d"/><rect x="25" fill="#1f978b"/><rect x="26" fill="#2cb17e" style="width:2.03px"/><rect x="28" fill="#26ad81" style="width:2.03px"/></g>
<g transform="translate(0 12)"><rect x="0" fill="#1f978b"/><rect x="1" fill="#35b779"/><rect x="2" fill="#228d8d"/><rect x="3" fill="#2cb17e"/><rect x="4" fill="#228d8d" style="width:2.03px"/><rect x="6" fill="#25848e"/><rect x="7" fill="#2cb17e"/><rect x="8" fill="#35b779"/><rect x="9" fill="#277f8e"/><rect x="10" fill="#228d8d"/><rect x="11" fill="#70cf57"/><rect x="12" fill="#89d548"/><rect x="13" fill="#48c16e"/><rect x="14" fill="#3e4989" style="width:2.03px"/><rect x="16" fill="#277f8e"/><rect x="17" fill="#89d548"/><rect x="18" fill="#60ca60"/><rect x="19" fill="#35b779" style="width:2.03px"/><rect x="21" fill="#2cb17e"/><rect x="22" fill="#1fa287"/><rect x="23" fill="#1f978b"/><rect x="24" fill="#277f8e" style="width:2.03px"/><rect x="26" fill="#2cb17e"/><rect x="27" fill="#26ad81"/><rect x="28" fill="#1fa287" style="width:2.03px"/></g>
<g transform="translate(0 13)"><rect x="0" fill="#2cb17e"/><rect x="1" fill="#1fa287"/><rect x="2" fill="#29798e"/><rect x="3" fill="#277f8e" style="width:2.03px"/><rect x="5" fill="#1f978b"/><rect x="6" fill="#1fa287"/><rect x="7" fill="#52c569" style="width:2.03px"/><rect x="9" fill="#40bd72"/><rect x="10" fill="#1f978b"/><rect x="11" fill="#70cf57"/><rect x="12" fill="#3e4989"/><rect x="13" fill="#9dd93b"/><rect x="14" fill="#f1e51d" style="width:2.03px"/><rect x="16" fill="#33628d"/><rect x="17" fill="#3b528b"/><rect x="18" fill="#3e4989"/><rect x="19" fill="#2d718e"/><rect x="20" fill="#40bd72"/><rect x="21" fill="#35b779"/><rect x="22" fill="#1f978b"/><rect x="23" fill="#2cb17e"/><rect x="24" fill="#1f978b"/><rect x="25" fill="#228d8d"/><rect x="26" fill="#277f8e"/><rect x="27" fill="#25848e" style="width:2.03px"/><rect x="29" fill="#1f978b"/></g>
<g transform="translate(0 14)"><rect x="0" fill="#2cb17e"/><rect x="1" fill="#277f8e"/><rect x="2" fill="#228d8d"/><rect x="3" fill="#40bd72" style="width:3.03px"/><rect x="6" fill="#25848e"/><rect x="7" fill="#52c569"/><rect x="8" fill="#277f8e" style="width:2.03px"/><rect x="10" fill="#2d718e"/><rect x="11" fill="#52c569"/><rect x="12" fill="#3b528b"/><rect x="13" fill="#f1e51d"/><rect x="14" fill="#3b528b"/><rect x="15" fill="#f1e51d"/><rect x="16" fill="#cae11f"/><rect x="17" fill="#228d8d"/><rect x="18" fill="#52c569"/><rect x="19" fill="#40bd72" style="width:2.03px"/><rect x="21" fill="#2cb17e"/><rect x="22" fill="#25848e" style="width:3.03px"/><rect x="25" fill="#35b779"/><rect x="26" fill="#228d8d"/><rect x="27" fill="#25848e" style="width:2.03px"/><rect x="29" fill="#1fa287"/></g>
<g transform="translate(0 15)"><rect x="0" fill="#35b779"/><rect x="1" fill="#2cb17e"/><rect x="2" fill="#1fa287" style="width:3.03px"/><rect x="5" fill="#1f978b"/><rect x="6" fill="#228d8d"/><rect x="7" fill="#52c569"/><rect x="8" fill="#26ad81"/><rect x="9" fill="#25848e"/><rect x="10" fill="#3b528b"/><rect x="11" fill="#b0dd2f"/><rect x="12" fill="#3b528b"/><rect x="13" fill="#9dd93b"/><rect x="14" fill="#46085c" style="width:2.03px"/><rect x="16" fill="#bddf26"/><rect x="17" fill="#40bd72"/><rect x="18" fill="#33628d"/><rect x="19" fill="#52c569"/><rect x="20" fill="#1f978b"/><rect x="21" fill="#2d718e"/><rect x="22" fill="#2f6b8e" style="width:2.03px"/><rect x="24" fill="#29798e" style="width:2.03px"/><rect x="26" fill="#277f8e" style="width:2.03px"/><rect x="28" fill="#25848e" style="width:2.03px"/></g>
<g transform="translate(0 16)"><rect x="0" fill="#2cb17e"/><rect x="1" fill="#25848e"/><rect x="2" fill="#29798e"/><rect x="3" fill="#277f8e"/><rect x="4" fill="#1fa287"/><rect x="5" fill="#1f978b"/><rect x="6" fill="#25848e"/><rect x="7" fill="#40bd72"/><rect x="8" fill="#52c569"/><rect x="9" fill="#60ca60"/><rect x="10" fill="#3b528b"/><rect x="11" fill="#52c569"/><rect x="12" fill="#277f8e"/><rect x="13" fill="#f1e51d"/><rect x="14" fill="#3b528b"/><rect x="15" fill="#fde725"/><rect x="16" fill="#b0dd2f"/><rect x="17" fill="#70cf57"/><rect x="18" fill="#3b528b"/><rect x="19" fill="#52c569"/><rect x="20" fill="#2cb17e"/><rect x="21" fill="#29798e"/><rect x="22" fill="#277f8e"/><rect x="23" fill="#228d8d" style="width:2.03px"/><rect x="25" fill="#25848e"/><rect x="26" fill="#277f8e"/><rect x="27" fill="#1f978b" style="width:2.03px"/><rect x="29" fill="#1fa287"/></g>
<g transform="translate(0 17)"><rect x="0" fill="#26ad81"/><rect x="1" fill="#1f978b"/><rect x="2" fill="#29798e"/><rect x="3" fill="#228d8d"/><rect x="4" fill="#1f978b"/><rect x="5" fill="#228d8d"/><rect x="6" fill="#277f8e"/><rect x="7" fill="#228d8d"/><rect x="8" fill="#52c569"/><rect x="9" fill="#70cf57"/><rect x="10" fill="#2d718e"/><rect x="11" fill="#3b528b" style="width:2.03px"/><rect x="13" fill="#bddf26"/><rect x="14" fill="#fde725" style="width:2.03px"/><rect x="16" fill="#b0dd2f"/><rect x="17" fill="#3e4989"/><rect x="18" fill="#3b528b"/><rect x="19" fill="#52c569"/><rect x="20" fill="#228d8d"/><rect x="21" fill="#277f8e"/><rect x="22" fill="#2cb17e"/><rect x="23" fill="#35b779" style="width:3.03px"/><rect x="26" fill="#2cb17e"/><rect x="27" fill="#26ad81"/><rect x="28" fill="#1f978b"/><rect x="29" fill="#23a983"/></g>
<g transform="translate(0 18)"><rect x="0" fill="#1fa287" style="width:2.03px"/><rect x="2" fill="#277f8e"/><rect x="3" fill="#2cb17e"/><rect x="4" fill="#25848e" style="width:2.03px"/><rect x="6" fill="#1f978b"/><rect x="7" fill="#25848e"/><rect x="8" fill="#2cb17e"/><rect x="9" fill="#60ca60"/><rect x="10" fill="#52c569"/><rect x="11" fill="#60ca60"/><rect x="12" fill="#70cf57"/><rect x="13" fill="#365c8d"/><rect x="14" fill="#3b528b"/><rect x="15" fill="#48c16e"/><rect x="16" fill="#3b528b"/><rect x="17" fill="#60ca60"/><rect x="18" fill="#70cf57"/><rect x="19" fill="#40bd72"/><rect x="20" fill="#25848e"/><rect x="21" fill="#228d8d"/><rect x="22" fill="#2cb17e"/><rect x="23" fill="#35b779" style="width:3.03px"/><rect x="26" fill="#2cb17e"/><rect x="27" fill="#26ad81"/><rect x="28" fill="#1fa287"/><rect x="29" fill="#26ad81"/></g>
<g transform="translate(0 19)"><rect x="0" fill="#2cb17e" style="width:2.03px"/><rect x="2" fill="#26ad81"/><rect x="3" fill="#2d718e"/><rect x="4" fill="#2cb17e"/><rect x="5" fill="#35b779"/><rect x="6" fill="#1f978b" style="width:2.03px"/><rect x="8" fill="#1fa287"/><rect x="9" fill="#52c569"/><rect x="10" fill="#48c16e"/><rect x="11" fill="#1fa287"/><rect x="12" fill="#33628d"/><rect x="13" fill="#48c16e"/><rect x="14" fill="#3b528b" style="width:2.03px"/><rect x="16" fill="#26ad81"/><rect x="17" fill="#2cb17e"/><rect x="18" fill="#60ca60"/><rect x="19" fill="#40bd72"/><rect x="20" fill="#277f8e"/><rect x="21" fill="#29798e"/><rect x="22" fill="#228d8d"/><rect x="23" fill="#26ad81"/><rect x="24" fill="#25848e"/><rect x="25" fill="#277f8e"/><rect x="26" fill="#1f978b"/><rect x="27" fill="#26ad81"/><rect x="28" fill="#228d8d"/><rect x="29" fill="#23a983"/></g>
<g transform="translate(0 20)"><rect x="0" fill="#2cb17e" style="width:2.03px"/><rect x="2" fill="#25848e"/><rect x="3" fill="#26ad81"/><rect x="4" fill="#2cb17e" style="width:2.03px"/><rect x="6" fill="#26ad81"/><rect x="7" fill="#228d8d"/><rect x="8" fill="#1f978b"/><rect x="9" fill="#31688e" style="width:2.03px"/><rect x="11" fill="#48c16e"/><rect x="12" fill="#60ca60"/><rect x="13" fill="#52c569"/><rect x="14" fill="#60ca60" style="width:2.03px"/><rect x="16" fill="#52c569"/><rect x="17" fill="#48c16e"/><rect x="18" fill="#25848e"/><rect x="19" fill="#2d718e"/><rect x="20" fill="#2f6b8e"/><rect x="21" fill="#277f8e"/><rect x="22" fill="#26ad81"/><rect x="23" fill="#1fa287"/><rect x="24" fill="#40bd72"/><rect x="25" fill="#26ad81"/><rect x="26" fill="#1f978b"/><rect x="27" fill="#1fa287" style="width:3.03px"/></g>
<g transform="translate(0 21)"><rect x="0" fill="#26ad81" style="width:2.03px"/><rect x="2" fill="#277f8e"/><rect x="3" fill="#1f978b"/><rect x="4" fill="#2cb17e"/><rect x="5" fill="#228d8d"/><rect x="6" fill="#2cb17e" style="width:2.03px"/><rect x="8" fill="#29798e"/><rect x="9" fill="#25848e"/><rect x="10" fill="#26ad81"/><rect x="11" fill="#60ca60" style="width:2.03px"/><rect x="13" fill="#48c16e" style="width:2.03px"/><rect x="15" fill="#70cf57"/><rect x="16" fill="#52c569"/><rect x="17" fill="#2d718e"/><rect x="18" fill="#60ca60"/><rect x="19" fill="#25848e" style="width:3.03px"/><rect x="22" fill="#1fa287"/><rect x="23" fill="#1f978b" style="width:2.03px"/><rect x="25" fill="#228d8d"/><rect x="26" fill="#26ad81"/><rect x="27" fill="#1fa287" style="width:2.03px"/><rect x="29" fill="#26ad81"/></g>
<g transform="translate(0 22)"><rect x="0" fill="#26ad81"/><rect x="1" fill="#1fa287"/><rect x="2" fill="#277f8e"/><rect x="3" fill="#1fa287"/><rect x="4" fill="#1f978b"/><rect x="5" fill="#26ad81"/><rect x="6" fill="#1f978b"/><rect x="7" fill="#25848e"/><rect x="8" fill="#52c569" style="width:2.03px"/><rect x="10" fill="#228d8d"/><rect x="11" fill="#463480"/><rect x="12" fill="#3e4989"/><rect x="13" fill="#33628d"/><rect x="14" fill="#1f978b" style="width:2.03px"/><rect x="16" fill="#25848e"/><rect x="17" fill="#33628d"/><rect x="18" fill="#277f8e" style="width:2.03px"/><rect x="20" fill="#228d8d"/><rect x="21" fill="#2cb17e"/><rect x="22" fill="#26ad81"/><rect x="23" fill="#1fa287"/><rect x="24" fill="#228d8d"/><rect x="25" fill="#1fa287"/><rect x="26" fill="#26ad81"/><rect x="27" fill="#35b779"/><rect x="28" fill="#1f978b"/><rect x="29" fill="#46085c"/></g>
<g transform="translate(0 23)"><rect x="0" fill="#48c16e"/><rect x="1" fill="#29798e"/><rect x="2" fill="#228d8d"/><rect x="3" fill="#1f978b"/><rect x="4" fill="#1fa287"/><rect x="5" fill="#35b779"/><rect x="6" fill="#26ad81"/><rect x="7" fill="#25848e"/><rect x="8" fill="#60ca60" style="width:2.03px"/><rect x="10" fill="#1f978b"/><rect x="11" fill="#70cf57"/><rect x="12" fill="#228d8d" style="width:2.03px"/><rect x="14" fill="#277f8e"/><rect x="15" fill="#29798e"/><rect x="16" fill="#277f8e" style="width:2.03px"/><rect x="18" fill="#26ad81"/><rect x="19" fill="#277f8e" style="width:2.03px"/><rect x="21" fill="#1f978b"/><rect x="22" fill="#277f8e"/><rect x="23" fill="#228d8d"/><rect x="24" fill="#26ad81"/><rect x="25" fill="#35b779"/><rect x="26" fill="#26ad81"/><rect x="27" fill="#228d8d"/><rect x="28" fill="#1fa287"/><rect x="29" fill="#bddf26"/></g>
<g transform="translate(0 24)"><rect x="0" fill="#25848e"/><rect x="1" fill="#26ad81"/><rect x="2" fill="#1fa287"/><rect x="3" fill="#40bd72"/><rect x="4" fill="#277f8e"/><rect x="5" fill="#1fa287"/><rect x="6" fill="#26ad81"/><rect x="7" fill="#1fa287"/><rect x="8" fill="#35b779"/><rect x="9" fill="#1f978b"/><rect x="10" fill="#1fa287"/><rect x="11" fill="#52c569"/><rect x="12" fill="#2cb17e" style="width:2.03px"/><rect x="14" fill="#25848e"/><rect x="15" fill="#277f8e"/><rect x="16" fill="#25848e"/><rect x="17" fill="#1fa287"/><rect x="18" fill="#2cb17e"/><rect x="19" fill="#277f8e"/><rect x="20" fill="#25848e"/><rect x="21" fill="#26ad81"/><rect x="22" fill="#1fa287"/><rect x="23" fill="#1f978b"/><rect x="24" fill="#26ad81" style="width:2.03px"/><rect x="26" fill="#2cb17e"/><rect x="27" fill="#26ad81"/><rect x="28" fill="#228d8d"/><rect x="29" fill="#2cb17e"/></g>
<g transform="translate(0 25)"><rect x="0" fill="#1fa287"/><rect x="1" fill="#26ad81"/><rect x="2" fill="#1f978b"/><rect x="3" fill="#277f8e"/><rect x="4" fill="#26ad81"/><rect x="5" fill="#2cb17e"/><rect x="6" fill="#2d718e"/><rect x="7" fill="#1fa287"/><rect x="8" fill="#26ad81"/><rect x="9" fill="#228d8d"/><rect x="10" fill="#1f978b" style="width:5.03px"/><rect x="15" fill="#1fa287" style="width:2.03px"/><rect x="17" fill="#1f978b"/><rect x="18" fill="#35b779"/><rect x="19" fill="#40bd72" style="width:2.03px"/><rect x="21" fill="#25848e"/><rect x="22" fill="#277f8e"/><rect x="23" fill="#25848e"/><rect x="24" fill="#1f978b"/><rect x="25" fill="#35b779" style="width:2.03px"/><rect x="27" fill="#26ad81" style="width:2.03px"/><rect x="29" fill="#1f978b"/></g>
<g transform="translate(0 26)"><rect x="0" fill="#2cb17e"/><rect x="1" fill="#1f978b"/><rect x="2" fill="#228d8d"/><rect x="3" fill="#1f978b"/><rect x="4" fill="#26ad81"/><rect x="5" fill="#277f8e"/><rect x="6" fill="#2cb17e"/><rect x="7" fill="#228d8d" style="width:2.03px"/><rect x="9" fill="#1fa287" style="width:2.03px"/><rect x="11" fill="#26ad81"/><rect x="12" fill="#25848e"/><rect x="13" fill="#1fa287"/><rect x="14" fill="#1f978b" style="width:2.03px"/><rect x="16" fill="#40bd72"/><rect x="17" fill="#26ad81"/><rect x="18" fill="#1fa287"/><rect x="19" fill="#26ad81"/><rect x="20" fill="#1fa287"/><rect x="21" fill="#25848e"/><rect x="22" fill="#277f8e"/><rect x="23" fill="#29798e"/><rect x="24" fill="#1f978b"/><rect x="25" fill="#35b779" style="width:2.03px"/><rect x="27" fill="#26ad81"/><rect x="28" fill="#1fa287"/><rect x="29" fill="#1f978b"/></g>
<g transform="translate(0 27)"><rect x="0" fill="#2cb17e"/><rect x="1" fill="#1fa287" style="width:2.03px"/><rect x="3" fill="#25848e"/><rect x="4" fill="#26ad81"/><rect x="5" fill="#1fa287"/><rect x="6" fill="#29798e"/><rect x="7" fill="#40bd72"/><rect x="8" fill="#35b779"/><rect x="9" fill="#2cb17e"/><rect x="10" fill="#26ad81"/><rect x="11" fill="#228d8d"/><rect x="12" fill="#1f978b"/><rect x="13" fill="#35b779"/><rect x="14" fill="#1fa287"/><rect x="15" fill="#1f978b"/><rect x="16" fill="#26ad81"/><rect x="17" fill="#29798e"/><rect x="18" fill="#2cb17e"/><rect x="19" fill="#26ad81" style="width:4.03px"/><rect x="23" fill="#228d8d"/><rect x="24" fill="#1f978b"/><rect x="25" fill="#26ad81" style="width:2.03px"/><rect x="27" fill="#25848e"/><rect x="28" fill="#1fa287"/><rect x="29" fill="#25848e"/></g>
<g transform="translate(0 28)"><rect x="0" fill="#26ad81"/><rect x="1" fill="#29798e"/><rect x="2" fill="#1fa287"/><rect x="3" fill="#35b779"/><rect x="4" fill="#2cb17e"/><rect x="5" fill="#26ad81"/><rect x="6" fill="#1fa287"/><rect x="7" fill="#35b779"/><rect x="8" fill="#1fa287"/><rect x="9" fill="#25848e"/><rect x="10" fill="#228d8d"/><rect x="11" fill="#48c16e"/><rect x="12" fill="#1f978b"/><rect x="13" fill="#1fa287"/><rect x="14" fill="#25848e" style="width:2.03px"/><rect x="16" fill="#1f978b"/><rect x="17" fill="#25848e"/><rect x="18" fill="#228d8d"/><rect x="19" fill="#35b779"/><rect x="20" fill="#1f978b"/><rect x="21" fill="#35b779" style="width:2.03px"/><rect x="23" fill="#1f978b"/><rect x="24" fill="#29798e"/><rect x="25" fill="#25848e"/><rect x="26" fill="#1fa287"/><rect x="27" fill="#2cb17e"/><rect x="28" fill="#228d8d"/><rect x="29" fill="#1f978b"/></g>
<g transform="translate(0 29)"><rect x="0" fill="#2cb17e"/><rect x="1" fill="#1f978b"/><rect x="2" fill="#1fa287"/><rect x="3" fill="#35b779"/><rect x="4" fill="#40bd72"/><rect x="5" fill="#25848e"/><rect x="6" fill="#1fa287"/><rect x="7" fill="#26ad81"/><rect x="8" fill="#228d8d"/><rect x="9" fill="#1fa287"/><rect x="10" fill="#228d8d"/><rect x="11" fill="#2cb17e"/><rect x="12" fill="#25848e"/><rect x="13" fill="#26ad81"/><rect x="14" fill="#1f978b"/><rect x="15" fill="#25848e"/><rect x="16" fill="#2cb17e"/><rect x="17" fill="#277f8e"/><rect x="18" fill="#1fa287"/><rect x="19" fill="#228d8d"/><rect x="20" fill="#1fa287"/><rect x="21" fill="#2cb17e" style="width:2.03px"/><rect x="23" fill="#228d8d"/><rect x="24" fill="#1fa287" style="width:2.03px"/><rect x="26" fill="#228d8d"/><rect x="27" fill="#1f978b" style="width:3.03px"/></g>
</g></g>
<rect x="552.50" y="201.50" width="162.00" height="162.00" fill="none" stroke="#000" stroke-width="0.9"/>
<line x1="555.20" y1="363.50" x2="555.20" y2="367.10" stroke="#000" stroke-width="0.9"/><text x="555.20" y="379.10" font-size="10.9" text-anchor="middle">0</text><line x1="609.20" y1="363.50" x2="609.20" y2="367.10" stroke="#000" stroke-width="0.9"/><text x="609.20" y="379.10" font-size="10.9" text-anchor="middle">10</text><line x1="663.20" y1="363.50" x2="663.20" y2="367.10" stroke="#000" stroke-width="0.9"/><text x="663.20" y="379.10" font-size="10.9" text-anchor="middle">20</text><line x1="548.90" y1="204.20" x2="552.50" y2="204.20" stroke="#000" stroke-width="0.9"/><text x="544.90" y="208.40" font-size="10.9" text-anchor="end">0</text><line x1="548.90" y1="231.20" x2="552.50" y2="231.20" stroke="#000" stroke-width="0.9"/><text x="544.90" y="235.40" font-size="10.9" text-anchor="end">5</text><line x1="548.90" y1="258.20" x2="552.50" y2="258.20" stroke="#000" stroke-width="0.9"/><text x="544.90" y="262.40" font-size="10.9" text-anchor="end">10</text><line x1="548.90" y1="285.20" x2="552.50" y2="285.20" stroke="#000" stroke-width="0.9"/><text x="544.90" y="289.40" font-size="10.9" text-anchor="end">15</text><line x1="548.90" y1="312.20" x2="552.50" y2="312.20" stroke="#000" stroke-width="0.9"/><text x="544.90" y="316.40" font-size="10.9" text-anchor="end">20</text><line x1="548.90" y1="339.20" x2="552.50" y2="339.20" stroke="#000" stroke-width="0.9"/><text x="544.90" y="343.40" font-size="10.9" text-anchor="end">25</text>
<rect x="724.40" y="194.50" width="9" height="176.00" fill="url(#vg)"/><rect x="724.40" y="194.50" width="9.00" height="176.00" fill="none" stroke="#000" stroke-width="0.9"/><line x1="733.40" y1="199.58" x2="737.00" y2="199.58" stroke="#000" stroke-width="0.9"/><text x="740.40" y="203.78" font-size="10.9">3</text><line x1="733.40" y1="224.98" x2="737.00" y2="224.98" stroke="#000" stroke-width="0.9"/><text x="740.40" y="229.18" font-size="10.9">2</text><line x1="733.40" y1="250.37" x2="737.00" y2="250.37" stroke="#000" stroke-width="0.9"/><text x="740.40" y="254.57" font-size="10.9">1</text><line x1="733.40" y1="275.77" x2="737.00" y2="275.77" stroke="#000" stroke-width="0.9"/><text x="740.40" y="279.97" font-size="10.9">0</text><line x1="733.40" y1="301.17" x2="737.00" y2="301.17" stroke="#000" stroke-width="0.9"/><text x="740.40" y="305.37" font-size="10.9">−1</text><line x1="733.40" y1="326.56" x2="737.00" y2="326.56" stroke="#000" stroke-width="0.9"/><text x="740.40" y="330.76" font-size="10.9">−2</text><line x1="733.40" y1="351.96" x2="737.00" y2="351.96" stroke="#000" stroke-width="0.9"/><text x="740.40" y="356.16" font-size="10.9">−3</text>
<rect x="359.25" y="85.76" width="24.30" height="24.30" fill="none" stroke="#000" stroke-width="1.7"/>
<line x1="359.25" y1="110.06" x2="294.86" y2="201.50" stroke="#000" stroke-width="1.2"/>
<line x1="383.56" y1="110.06" x2="447.14" y2="201.50" stroke="#000" stroke-width="1.2"/>
<rect x="621.75" y="85.76" width="24.30" height="24.30" fill="none" stroke="#000" stroke-width="1.7"/>
<line x1="621.75" y1="110.06" x2="557.36" y2="201.50" stroke="#000" stroke-width="1.2"/>
<line x1="646.06" y1="110.06" x2="709.64" y2="201.50" stroke="#000" stroke-width="1.2"/>
</svg></body></html>
